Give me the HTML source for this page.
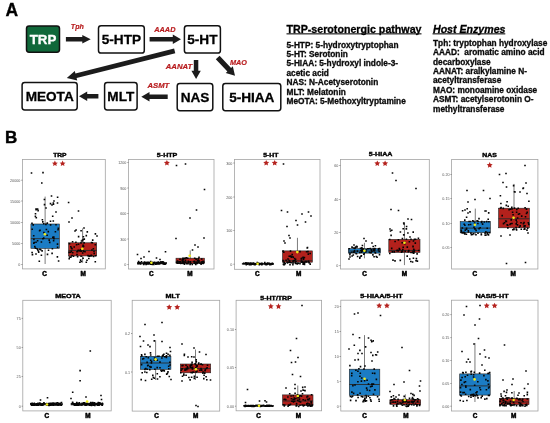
<!DOCTYPE html><html><head><meta charset="utf-8"><title>TRP-serotonergic pathway</title>
<style>html,body{margin:0;padding:0;background:#fff}svg{display:block}text{font-family:"Liberation Sans",Arial,sans-serif}.b{font-weight:bold}.bi{font-weight:bold;font-style:italic}.red{fill:#b5231f}.t{font-weight:bold;font-size:6.1px;text-anchor:middle;fill:#000;stroke:#000;stroke-width:0.4px;stroke-linejoin:round}.ax{font-size:3.7px;fill:#585858;text-anchor:end}.cm{font-weight:bold;font-size:6.4px;text-anchor:middle;fill:#000;stroke:#000;stroke-width:0.5px;stroke-linejoin:round}.l{font-weight:bold;font-size:8.3px;fill:#0a0a0a;stroke:#0a0a0a;stroke-width:0.3px}.box{font-weight:bold;font-size:13.7px;text-anchor:middle;fill:#000}.enz{font-weight:bold;font-style:italic;font-size:8.1px;fill:#b81d1f;stroke:#b81d1f;stroke-width:0.2px}</style></head><body>
<svg width="550" height="423" viewBox="0 0 550 423">
<rect width="550" height="423" fill="#fff"/>
<text x="5.6" y="16.35" class="b" font-size="17.5" stroke="#000" stroke-width="0.3">A</text>
<text x="4.9" y="142.7" class="b" font-size="17" stroke="#000" stroke-width="0.4">B</text>
<rect x="26.5" y="25.9" width="33.0" height="26.3" rx="2.6" fill="#10683a" stroke="#111" stroke-width="1.5"/>
<text x="43.0" y="43.8" class="box" style="fill:#fff;font-size:13.3px;stroke:#fff;stroke-width:0.35px">TRP</text>
<rect x="98.5" y="25.7" width="45.8" height="27.4" rx="2.6" fill="#fff" stroke="#111" stroke-width="1.5"/>
<text x="121.4" y="44.3" class="box" style="fill:#000;font-size:13.6px;stroke:#000;stroke-width:0.3px">5-HTP</text>
<rect x="184.4" y="25.8" width="36.0" height="27.3" rx="2.6" fill="#fff" stroke="#111" stroke-width="1.5"/>
<text x="202.4" y="44.3" class="box" style="fill:#000;font-size:13.6px;stroke:#000;stroke-width:0.3px">5-HT</text>
<rect x="22.1" y="82.5" width="55.1" height="27.4" rx="2.6" fill="#fff" stroke="#111" stroke-width="1.5"/>
<text x="49.7" y="101.1" class="box" style="fill:#000;font-size:13.6px;stroke:#000;stroke-width:0.3px">MEOTA</text>
<rect x="104.6" y="82.5" width="32.5" height="27.4" rx="2.6" fill="#fff" stroke="#111" stroke-width="1.5"/>
<text x="120.8" y="101.1" class="box" style="fill:#000;font-size:13.6px;stroke:#000;stroke-width:0.3px">MLT</text>
<rect x="177.2" y="83.5" width="35.6" height="27.2" rx="2.6" fill="#fff" stroke="#111" stroke-width="1.5"/>
<text x="195.0" y="102.0" class="box" style="fill:#000;font-size:13.6px;stroke:#000;stroke-width:0.3px">NAS</text>
<rect x="222.8" y="83.5" width="58.0" height="27.2" rx="2.6" fill="#fff" stroke="#111" stroke-width="1.5"/>
<text x="251.8" y="102.0" class="box" style="fill:#000;font-size:13.6px;stroke:#000;stroke-width:0.3px">5-HIAA</text>
<polygon fill="#1c1c1c" points="65.9,41.4 82.3,41.4 82.3,43.6 90.7,39.3 82.3,35.0 82.3,37.1 65.9,37.1"/>
<polygon fill="#1c1c1c" points="149.6,41.5 172.8,41.5 172.8,44.0 181.0,39.3 172.8,34.6 172.8,37.0 149.6,37.0"/>
<polygon fill="#1c1c1c" points="193.8,60.0 193.8,70.8 191.4,70.8 196.1,79.0 200.8,70.8 198.3,70.8 198.3,60.0"/>
<polygon fill="#1c1c1c" points="215.8,59.3 227.4,71.4 225.7,73.1 235.0,75.8 232.8,66.3 231.1,67.9 219.6,55.7"/>
<polygon fill="#1c1c1c" points="167.7,94.5 149.5,94.5 149.5,92.0 141.3,96.7 149.5,101.4 149.5,99.0 167.7,99.0"/>
<polygon fill="#1c1c1c" points="98.4,94.0 87.2,94.0 87.2,91.5 79.0,96.2 87.2,100.9 87.2,98.5 98.4,98.5"/>
<polygon fill="#1c1c1c" points="174.1,48.6 75.4,73.5 74.8,71.1 66.8,78.1 77.2,80.4 76.6,78.1 175.3,53.2"/>
<text x="70.8" y="28.8" class="enz" textLength="13" lengthAdjust="spacingAndGlyphs">Tph</text>
<text x="154.2" y="31.9" class="enz" textLength="21.3" lengthAdjust="spacingAndGlyphs">AAAD</text>
<text x="165.7" y="69.1" class="enz" textLength="26.6" lengthAdjust="spacingAndGlyphs">AANAT</text>
<text x="229.9" y="64.5" class="enz" textLength="17" lengthAdjust="spacingAndGlyphs">MAO</text>
<text x="147.5" y="88.3" class="enz" textLength="21.8" lengthAdjust="spacingAndGlyphs">ASMT</text>
<text x="286.5" y="32.9" class="b" font-size="10.66" stroke="#000" stroke-width="0.3">TRP-serotonergic pathway</text>
<rect x="286.5" y="33.3" width="135" height="1.1" fill="#111"/>
<text x="286.5" y="47.70" class="l">5-HTP: 5-hydroxytryptophan</text>
<text x="286.5" y="57.07" class="l">5-HT: Serotonin</text>
<text x="286.5" y="66.44" class="l">5-HIAA: 5-hydroxyl indole-3-</text>
<text x="286.5" y="75.81" class="l">acetic acid</text>
<text x="286.5" y="85.18" class="l">NAS: N-Acetyserotonin</text>
<text x="286.5" y="94.55" class="l">MLT: Melatonin</text>
<text x="286.5" y="103.92" class="l">MeOTA: 5-Methoxyltryptamine</text>
<text x="433" y="32.9" class="bi" font-size="10.6" stroke="#000" stroke-width="0.3">Host Enzymes</text>
<rect x="432.5" y="33.3" width="72.8" height="1.1" fill="#111"/>
<text x="433" y="45.70" class="l" xml:space="preserve">Tph: tryptophan hydroxylase</text>
<text x="433" y="55.10" class="l" xml:space="preserve">AAAD:  aromatic amino acid</text>
<text x="433" y="64.50" class="l" xml:space="preserve">decarboxylase</text>
<text x="433" y="73.90" class="l" xml:space="preserve">AANAT: aralkylamine N-</text>
<text x="433" y="83.30" class="l" xml:space="preserve">acetyltransferase</text>
<text x="433" y="92.70" class="l" xml:space="preserve">MAO: monoamine oxidase</text>
<text x="433" y="102.10" class="l" xml:space="preserve">ASMT: acetylserotonin O-</text>
<text x="433" y="111.50" class="l" xml:space="preserve">methyltransferase</text>
<rect x="22.4" y="159.4" width="82.9" height="109.5" fill="#fff" stroke="#a3a3a3" stroke-width="0.8"/>
<text x="59.8" y="157.25" class="t" textLength="13.3" lengthAdjust="spacingAndGlyphs">TRP</text>
<text x="20.3" y="181.7" class="ax">20000</text>
<rect x="21.2" y="179.85" width="1.2" height="0.5" fill="#444"/>
<text x="20.3" y="202.6" class="ax">15000</text>
<rect x="21.2" y="200.75" width="1.2" height="0.5" fill="#444"/>
<text x="20.3" y="223.9" class="ax">10000</text>
<rect x="21.2" y="222.05" width="1.2" height="0.5" fill="#444"/>
<text x="20.3" y="245.1" class="ax">5000</text>
<rect x="21.2" y="243.25" width="1.2" height="0.5" fill="#444"/>
<text x="20.3" y="265.9" class="ax">0</text>
<rect x="21.2" y="264.15" width="1.2" height="0.5" fill="#444"/>
<rect x="44.65" y="196.6" width="0.9" height="67.4" fill="#6e6e6e"/>
<rect x="30.9" y="224.0" width="28.4" height="24.3" fill="#1b7cc4" stroke="#222" stroke-width="0.6"/>
<rect x="30.9" y="238.25" width="28.4" height="0.9" fill="#2a2a2a"/>
<path d="M48.4 239.3h1.6v1.6h-1.6zM40.6 254.5h1.6v1.6h-1.6zM31.6 254.0h1.6v1.6h-1.6zM33.1 238.6h1.6v1.6h-1.6zM34.0 245.8h1.6v1.6h-1.6zM56.6 256.1h1.6v1.6h-1.6zM57.3 229.0h1.6v1.6h-1.6zM38.5 260.4h1.6v1.6h-1.6zM39.1 248.5h1.6v1.6h-1.6zM46.5 222.3h1.6v1.6h-1.6zM45.6 228.7h1.6v1.6h-1.6zM36.2 247.9h1.6v1.6h-1.6zM39.2 229.5h1.6v1.6h-1.6zM38.8 229.9h1.6v1.6h-1.6zM37.3 209.8h1.6v1.6h-1.6zM54.6 230.9h1.6v1.6h-1.6zM57.5 227.4h1.6v1.6h-1.6zM51.3 252.6h1.6v1.6h-1.6zM31.7 253.7h1.6v1.6h-1.6zM46.3 234.4h1.6v1.6h-1.6zM49.7 220.5h1.6v1.6h-1.6zM43.1 231.7h1.6v1.6h-1.6zM43.6 198.7h1.6v1.6h-1.6zM49.8 224.1h1.6v1.6h-1.6zM53.1 237.8h1.6v1.6h-1.6zM48.9 241.6h1.6v1.6h-1.6zM35.2 253.2h1.6v1.6h-1.6zM51.6 247.9h1.6v1.6h-1.6zM41.3 250.1h1.6v1.6h-1.6zM42.9 223.0h1.6v1.6h-1.6zM53.0 236.2h1.6v1.6h-1.6zM42.0 221.1h1.6v1.6h-1.6zM56.8 246.4h1.6v1.6h-1.6zM37.0 249.1h1.6v1.6h-1.6zM46.7 253.6h1.6v1.6h-1.6zM42.1 237.9h1.6v1.6h-1.6zM56.7 243.3h1.6v1.6h-1.6zM47.5 230.8h1.6v1.6h-1.6zM55.2 224.0h1.6v1.6h-1.6zM52.5 202.2h1.6v1.6h-1.6zM33.4 241.7h1.6v1.6h-1.6zM32.4 224.1h1.6v1.6h-1.6zM39.9 249.0h1.6v1.6h-1.6zM34.7 247.5h1.6v1.6h-1.6zM31.3 251.7h1.6v1.6h-1.6zM34.7 212.9h1.6v1.6h-1.6zM40.6 241.2h1.6v1.6h-1.6zM57.8 260.2h1.6v1.6h-1.6zM33.0 242.5h1.6v1.6h-1.6zM37.9 251.4h1.6v1.6h-1.6zM31.2 222.5h1.6v1.6h-1.6zM34.6 215.6h1.6v1.6h-1.6zM45.1 223.6h1.6v1.6h-1.6zM49.7 202.8h1.6v1.6h-1.6zM35.2 241.4h1.6v1.6h-1.6zM51.9 215.4h1.6v1.6h-1.6zM52.8 240.0h1.6v1.6h-1.6zM52.7 203.3h1.6v1.6h-1.6zM36.8 208.2h1.6v1.6h-1.6zM31.4 228.4h1.6v1.6h-1.6zM37.7 250.5h1.6v1.6h-1.6zM42.9 237.3h1.6v1.6h-1.6zM56.8 196.5h1.6v1.6h-1.6zM36.8 240.0h1.6v1.6h-1.6zM47.7 249.5h1.6v1.6h-1.6zM43.7 203.8h1.6v1.6h-1.6zM32.9 235.0h1.6v1.6h-1.6zM52.0 236.6h1.6v1.6h-1.6zM35.5 216.9h1.6v1.6h-1.6zM52.5 220.2h1.6v1.6h-1.6zM41.6 218.9h1.6v1.6h-1.6zM35.3 208.8h1.6v1.6h-1.6zM30.7 172.2h1.6v1.6h-1.6zM42.2 171.8h1.6v1.6h-1.6zM41.0 182.2h1.6v1.6h-1.6zM50.7 195.2h1.6v1.6h-1.6zM53.2 200.2h1.6v1.6h-1.6zM56.7 202.2h1.6v1.6h-1.6zM51.2 204.2h1.6v1.6h-1.6zM45.2 207.2h1.6v1.6h-1.6zM35.2 208.2h1.6v1.6h-1.6zM55.2 211.2h1.6v1.6h-1.6z" fill="#050505"/>
<circle cx="44.9" cy="234.3" r="1.3" fill="#f2ee1a"/>
<rect x="82.20" y="228.4" width="0.9" height="34.3" fill="#6e6e6e"/>
<rect x="68.6" y="242.8" width="28.1" height="13.1" fill="#b3211c" stroke="#222" stroke-width="0.6"/>
<rect x="68.6" y="249.95" width="28.1" height="0.9" fill="#2a2a2a"/>
<path d="M92.8 255.7h1.6v1.6h-1.6zM90.7 241.7h1.6v1.6h-1.6zM77.8 235.8h1.6v1.6h-1.6zM68.7 243.0h1.6v1.6h-1.6zM82.6 235.9h1.6v1.6h-1.6zM91.9 239.3h1.6v1.6h-1.6zM75.1 241.4h1.6v1.6h-1.6zM84.2 250.9h1.6v1.6h-1.6zM71.9 251.9h1.6v1.6h-1.6zM80.7 240.2h1.6v1.6h-1.6zM79.7 248.9h1.6v1.6h-1.6zM82.7 238.4h1.6v1.6h-1.6zM80.2 242.1h1.6v1.6h-1.6zM90.0 255.1h1.6v1.6h-1.6zM88.0 257.7h1.6v1.6h-1.6zM82.3 244.5h1.6v1.6h-1.6zM71.2 248.0h1.6v1.6h-1.6zM75.8 243.9h1.6v1.6h-1.6zM83.5 238.3h1.6v1.6h-1.6zM80.3 230.0h1.6v1.6h-1.6zM82.2 245.8h1.6v1.6h-1.6zM82.8 245.4h1.6v1.6h-1.6zM87.2 254.8h1.6v1.6h-1.6zM75.3 229.2h1.6v1.6h-1.6zM91.1 249.2h1.6v1.6h-1.6zM80.3 255.5h1.6v1.6h-1.6zM70.3 256.2h1.6v1.6h-1.6zM92.6 248.0h1.6v1.6h-1.6zM86.2 259.5h1.6v1.6h-1.6zM94.5 260.9h1.6v1.6h-1.6zM79.1 261.5h1.6v1.6h-1.6zM90.9 255.0h1.6v1.6h-1.6zM82.3 257.4h1.6v1.6h-1.6zM76.9 250.7h1.6v1.6h-1.6zM83.3 242.1h1.6v1.6h-1.6zM77.3 249.7h1.6v1.6h-1.6zM70.0 245.9h1.6v1.6h-1.6zM94.6 233.1h1.6v1.6h-1.6zM69.4 256.3h1.6v1.6h-1.6zM71.8 240.9h1.6v1.6h-1.6zM90.5 254.6h1.6v1.6h-1.6zM93.2 250.4h1.6v1.6h-1.6zM70.7 247.3h1.6v1.6h-1.6zM79.8 259.3h1.6v1.6h-1.6zM85.5 261.4h1.6v1.6h-1.6zM91.5 241.9h1.6v1.6h-1.6zM80.6 260.7h1.6v1.6h-1.6zM93.4 252.6h1.6v1.6h-1.6zM82.6 250.3h1.6v1.6h-1.6zM72.7 255.5h1.6v1.6h-1.6zM76.8 255.9h1.6v1.6h-1.6zM76.2 253.8h1.6v1.6h-1.6zM77.7 243.4h1.6v1.6h-1.6zM68.7 256.2h1.6v1.6h-1.6zM73.4 246.2h1.6v1.6h-1.6zM71.2 254.7h1.6v1.6h-1.6zM81.7 239.3h1.6v1.6h-1.6zM82.0 239.8h1.6v1.6h-1.6zM77.6 249.5h1.6v1.6h-1.6zM85.5 234.8h1.6v1.6h-1.6zM69.8 251.5h1.6v1.6h-1.6zM88.4 255.3h1.6v1.6h-1.6zM70.6 250.5h1.6v1.6h-1.6zM86.5 231.1h1.6v1.6h-1.6zM76.2 250.9h1.6v1.6h-1.6zM80.4 250.5h1.6v1.6h-1.6zM94.7 254.9h1.6v1.6h-1.6zM94.5 243.9h1.6v1.6h-1.6zM68.3 251.6h1.6v1.6h-1.6zM81.9 252.2h1.6v1.6h-1.6zM68.4 257.9h1.6v1.6h-1.6zM79.1 250.1h1.6v1.6h-1.6zM67.8 201.7h1.6v1.6h-1.6zM77.7 210.2h1.6v1.6h-1.6zM71.2 217.2h1.6v1.6h-1.6zM68.2 221.2h1.6v1.6h-1.6zM83.2 227.2h1.6v1.6h-1.6zM96.2 235.2h1.6v1.6h-1.6zM74.2 230.2h1.6v1.6h-1.6z" fill="#050505"/>
<circle cx="82.3" cy="248.7" r="1.3" fill="#f2ee1a"/>
<polygon fill="#b5231f" points="54.90,160.50 55.77,162.40 57.85,162.64 56.32,164.06 56.72,166.11 54.90,165.09 53.08,166.11 53.48,164.06 51.95,162.64 54.03,162.40"/>
<polygon fill="#b5231f" points="62.60,160.50 63.47,162.40 65.55,162.64 64.02,164.06 64.42,166.11 62.60,165.09 60.78,166.11 61.18,164.06 59.65,162.64 61.73,162.40"/>
<text x="44.6" y="275.5" class="cm">C</text>
<text x="83.2" y="275.5" class="cm">M</text>
<rect x="128.5" y="159.4" width="85.5" height="109.6" fill="#fff" stroke="#a3a3a3" stroke-width="0.8"/>
<text x="167.1" y="156.75" class="t" textLength="20.5" lengthAdjust="spacingAndGlyphs">5-HTP</text>
<text x="126.4" y="164.2" class="ax">1200</text>
<rect x="127.3" y="162.35" width="1.2" height="0.5" fill="#444"/>
<text x="126.4" y="189.6" class="ax">900</text>
<rect x="127.3" y="187.75" width="1.2" height="0.5" fill="#444"/>
<text x="126.4" y="215.0" class="ax">600</text>
<rect x="127.3" y="213.15" width="1.2" height="0.5" fill="#444"/>
<text x="126.4" y="240.6" class="ax">300</text>
<rect x="127.3" y="238.75" width="1.2" height="0.5" fill="#444"/>
<text x="126.4" y="265.9" class="ax">0</text>
<rect x="127.3" y="264.15" width="1.2" height="0.5" fill="#444"/>
<rect x="151.70" y="261.5" width="0.9" height="3.0" fill="#6e6e6e"/>
<rect x="137.6" y="262.6" width="29.1" height="1.3" fill="#111" stroke="#222" stroke-width="0.6"/>
<rect x="137.6" y="262.85" width="29.1" height="0.9" fill="#2a2a2a"/>
<path d="M145.8 263.1h1.6v1.6h-1.6zM152.2 263.4h1.6v1.6h-1.6zM157.4 261.3h1.6v1.6h-1.6zM146.5 261.6h1.6v1.6h-1.6zM157.6 261.8h1.6v1.6h-1.6zM160.8 261.8h1.6v1.6h-1.6zM157.9 261.4h1.6v1.6h-1.6zM152.0 261.8h1.6v1.6h-1.6zM159.9 262.4h1.6v1.6h-1.6zM162.4 261.4h1.6v1.6h-1.6zM143.8 262.3h1.6v1.6h-1.6zM147.4 263.1h1.6v1.6h-1.6zM153.0 263.6h1.6v1.6h-1.6zM156.4 262.2h1.6v1.6h-1.6zM159.7 262.5h1.6v1.6h-1.6zM152.3 262.2h1.6v1.6h-1.6zM158.0 261.8h1.6v1.6h-1.6zM144.8 262.5h1.6v1.6h-1.6zM158.1 261.9h1.6v1.6h-1.6zM148.0 261.5h1.6v1.6h-1.6zM158.9 262.9h1.6v1.6h-1.6zM139.5 262.2h1.6v1.6h-1.6zM158.2 263.2h1.6v1.6h-1.6zM137.7 262.8h1.6v1.6h-1.6zM156.2 263.2h1.6v1.6h-1.6zM145.5 262.3h1.6v1.6h-1.6zM150.4 262.1h1.6v1.6h-1.6zM142.9 263.6h1.6v1.6h-1.6zM137.8 260.8h1.6v1.6h-1.6zM164.5 263.0h1.6v1.6h-1.6zM143.2 262.7h1.6v1.6h-1.6zM153.6 261.8h1.6v1.6h-1.6zM164.1 263.4h1.6v1.6h-1.6zM151.6 263.6h1.6v1.6h-1.6zM143.8 261.3h1.6v1.6h-1.6zM138.0 261.5h1.6v1.6h-1.6zM150.0 263.3h1.6v1.6h-1.6zM147.0 262.6h1.6v1.6h-1.6zM137.3 263.0h1.6v1.6h-1.6zM140.7 261.0h1.6v1.6h-1.6zM162.6 261.2h1.6v1.6h-1.6zM148.3 262.7h1.6v1.6h-1.6zM147.4 261.4h1.6v1.6h-1.6zM138.7 262.7h1.6v1.6h-1.6zM145.3 263.6h1.6v1.6h-1.6zM144.8 261.7h1.6v1.6h-1.6zM147.8 261.9h1.6v1.6h-1.6zM160.1 260.9h1.6v1.6h-1.6zM163.7 262.4h1.6v1.6h-1.6zM138.7 262.3h1.6v1.6h-1.6zM158.4 262.1h1.6v1.6h-1.6zM138.7 262.0h1.6v1.6h-1.6zM150.6 261.8h1.6v1.6h-1.6zM158.1 262.7h1.6v1.6h-1.6zM155.7 261.7h1.6v1.6h-1.6zM148.4 262.8h1.6v1.6h-1.6zM143.1 263.2h1.6v1.6h-1.6zM143.5 261.5h1.6v1.6h-1.6zM149.9 260.7h1.6v1.6h-1.6zM139.8 263.2h1.6v1.6h-1.6zM144.0 262.6h1.6v1.6h-1.6zM162.2 262.8h1.6v1.6h-1.6zM148.9 262.1h1.6v1.6h-1.6zM146.8 262.1h1.6v1.6h-1.6zM164.5 263.2h1.6v1.6h-1.6zM155.0 263.3h1.6v1.6h-1.6zM144.9 261.7h1.6v1.6h-1.6zM149.8 263.3h1.6v1.6h-1.6zM161.8 261.0h1.6v1.6h-1.6zM157.2 263.1h1.6v1.6h-1.6zM153.8 261.6h1.6v1.6h-1.6zM163.3 263.3h1.6v1.6h-1.6zM136.7 253.7h1.6v1.6h-1.6zM148.2 250.7h1.6v1.6h-1.6zM164.7 251.0h1.6v1.6h-1.6zM143.2 256.2h1.6v1.6h-1.6zM155.7 257.2h1.6v1.6h-1.6zM159.2 258.7h1.6v1.6h-1.6zM140.2 257.7h1.6v1.6h-1.6z" fill="#050505"/>
<circle cx="151.4" cy="262.8" r="1.3" fill="#f2ee1a"/>
<rect x="189.75" y="250.4" width="0.9" height="14.2" fill="#6e6e6e"/>
<rect x="176" y="258.2" width="28.4" height="5.1" fill="#b3211c" stroke="#222" stroke-width="0.6"/>
<rect x="176" y="261.35" width="28.4" height="0.9" fill="#2a2a2a"/>
<path d="M202.3 260.5h1.6v1.6h-1.6zM179.9 262.6h1.6v1.6h-1.6zM201.5 262.0h1.6v1.6h-1.6zM196.7 259.7h1.6v1.6h-1.6zM176.8 261.8h1.6v1.6h-1.6zM200.9 258.2h1.6v1.6h-1.6zM179.2 258.5h1.6v1.6h-1.6zM194.8 263.2h1.6v1.6h-1.6zM190.1 262.5h1.6v1.6h-1.6zM181.8 261.6h1.6v1.6h-1.6zM184.0 257.4h1.6v1.6h-1.6zM193.4 262.4h1.6v1.6h-1.6zM182.1 259.1h1.6v1.6h-1.6zM195.0 263.7h1.6v1.6h-1.6zM189.4 261.0h1.6v1.6h-1.6zM182.7 258.9h1.6v1.6h-1.6zM181.9 260.7h1.6v1.6h-1.6zM187.2 262.8h1.6v1.6h-1.6zM197.5 258.1h1.6v1.6h-1.6zM181.3 259.2h1.6v1.6h-1.6zM198.2 256.6h1.6v1.6h-1.6zM196.5 262.7h1.6v1.6h-1.6zM189.3 263.7h1.6v1.6h-1.6zM187.1 262.7h1.6v1.6h-1.6zM179.7 260.8h1.6v1.6h-1.6zM202.4 261.3h1.6v1.6h-1.6zM177.3 262.5h1.6v1.6h-1.6zM199.9 262.3h1.6v1.6h-1.6zM201.2 261.0h1.6v1.6h-1.6zM201.3 261.3h1.6v1.6h-1.6zM193.9 257.5h1.6v1.6h-1.6zM184.8 261.6h1.6v1.6h-1.6zM183.4 262.5h1.6v1.6h-1.6zM179.1 262.4h1.6v1.6h-1.6zM185.5 257.1h1.6v1.6h-1.6zM187.5 260.4h1.6v1.6h-1.6zM185.9 263.0h1.6v1.6h-1.6zM185.7 257.1h1.6v1.6h-1.6zM187.0 257.5h1.6v1.6h-1.6zM176.8 260.2h1.6v1.6h-1.6zM200.9 262.5h1.6v1.6h-1.6zM200.3 263.4h1.6v1.6h-1.6zM201.9 261.4h1.6v1.6h-1.6zM195.3 258.3h1.6v1.6h-1.6zM175.8 261.4h1.6v1.6h-1.6zM193.1 260.7h1.6v1.6h-1.6zM182.1 257.4h1.6v1.6h-1.6zM201.8 262.4h1.6v1.6h-1.6zM187.5 261.4h1.6v1.6h-1.6zM180.7 262.4h1.6v1.6h-1.6zM198.2 260.1h1.6v1.6h-1.6zM184.7 259.6h1.6v1.6h-1.6zM197.1 261.5h1.6v1.6h-1.6zM196.3 262.7h1.6v1.6h-1.6zM176.6 262.5h1.6v1.6h-1.6zM202.6 261.5h1.6v1.6h-1.6zM183.0 261.0h1.6v1.6h-1.6zM189.4 262.6h1.6v1.6h-1.6zM182.1 259.0h1.6v1.6h-1.6zM194.2 261.9h1.6v1.6h-1.6zM193.9 260.4h1.6v1.6h-1.6zM183.7 263.5h1.6v1.6h-1.6zM195.9 261.6h1.6v1.6h-1.6zM182.4 262.7h1.6v1.6h-1.6zM191.5 263.6h1.6v1.6h-1.6zM202.9 261.6h1.6v1.6h-1.6zM197.9 261.3h1.6v1.6h-1.6zM178.5 261.0h1.6v1.6h-1.6zM198.7 262.2h1.6v1.6h-1.6zM183.7 257.4h1.6v1.6h-1.6zM202.4 262.6h1.6v1.6h-1.6zM185.9 262.4h1.6v1.6h-1.6zM175.7 164.7h1.6v1.6h-1.6zM184.7 163.2h1.6v1.6h-1.6zM203.7 188.7h1.6v1.6h-1.6zM195.7 209.2h1.6v1.6h-1.6zM189.2 217.2h1.6v1.6h-1.6zM175.2 237.7h1.6v1.6h-1.6zM203.2 237.2h1.6v1.6h-1.6zM194.2 244.2h1.6v1.6h-1.6zM197.2 246.2h1.6v1.6h-1.6zM191.7 249.2h1.6v1.6h-1.6z" fill="#050505"/>
<circle cx="189.7" cy="255.7" r="1.3" fill="#f2ee1a"/>
<polygon fill="#b5231f" points="166.90,159.90 167.77,161.80 169.85,162.04 168.32,163.46 168.72,165.51 166.90,164.49 165.08,165.51 165.48,163.46 163.95,162.04 166.03,161.80"/>
<text x="151.3" y="275.5" class="cm">C</text>
<text x="190" y="275.5" class="cm">M</text>
<rect x="234.5" y="159.4" width="85.5" height="109.9" fill="#fff" stroke="#a3a3a3" stroke-width="0.8"/>
<text x="270.8" y="157.25" class="t" textLength="15.3" lengthAdjust="spacingAndGlyphs">5-HT</text>
<text x="232.4" y="164.6" class="ax">300</text>
<rect x="233.3" y="162.75" width="1.2" height="0.5" fill="#444"/>
<text x="232.4" y="198.6" class="ax">200</text>
<rect x="233.3" y="196.75" width="1.2" height="0.5" fill="#444"/>
<text x="232.4" y="232.1" class="ax">100</text>
<rect x="233.3" y="230.25" width="1.2" height="0.5" fill="#444"/>
<text x="232.4" y="265.7" class="ax">0</text>
<rect x="233.3" y="263.85" width="1.2" height="0.5" fill="#444"/>
<rect x="257.35" y="262.6" width="0.9" height="2.2" fill="#6e6e6e"/>
<rect x="242.2" y="263.2" width="31.2" height="1.0" fill="#111" stroke="#222" stroke-width="0.6"/>
<rect x="242.2" y="263.25" width="31.2" height="0.9" fill="#2a2a2a"/>
<path d="M249.8 262.3h1.6v1.6h-1.6zM245.1 261.9h1.6v1.6h-1.6zM248.5 262.7h1.6v1.6h-1.6zM248.1 263.0h1.6v1.6h-1.6zM261.6 263.2h1.6v1.6h-1.6zM251.8 263.4h1.6v1.6h-1.6zM251.3 262.5h1.6v1.6h-1.6zM258.5 263.8h1.6v1.6h-1.6zM253.8 263.4h1.6v1.6h-1.6zM244.7 262.7h1.6v1.6h-1.6zM254.3 263.8h1.6v1.6h-1.6zM270.7 263.1h1.6v1.6h-1.6zM252.7 263.2h1.6v1.6h-1.6zM272.0 263.3h1.6v1.6h-1.6zM263.9 263.0h1.6v1.6h-1.6zM269.1 263.4h1.6v1.6h-1.6zM254.2 263.3h1.6v1.6h-1.6zM246.8 262.3h1.6v1.6h-1.6zM261.2 263.7h1.6v1.6h-1.6zM260.7 262.4h1.6v1.6h-1.6zM246.3 263.2h1.6v1.6h-1.6zM269.9 263.2h1.6v1.6h-1.6zM266.2 263.6h1.6v1.6h-1.6zM245.7 262.4h1.6v1.6h-1.6zM256.5 261.8h1.6v1.6h-1.6zM253.6 263.9h1.6v1.6h-1.6zM266.8 262.2h1.6v1.6h-1.6zM248.6 263.8h1.6v1.6h-1.6zM266.9 263.3h1.6v1.6h-1.6zM254.0 263.5h1.6v1.6h-1.6zM245.6 262.6h1.6v1.6h-1.6zM269.0 263.8h1.6v1.6h-1.6zM264.8 263.7h1.6v1.6h-1.6zM245.5 263.9h1.6v1.6h-1.6zM260.8 262.7h1.6v1.6h-1.6zM259.5 263.1h1.6v1.6h-1.6zM255.4 263.2h1.6v1.6h-1.6zM260.6 262.9h1.6v1.6h-1.6zM265.0 263.0h1.6v1.6h-1.6zM247.3 262.3h1.6v1.6h-1.6zM245.8 263.0h1.6v1.6h-1.6zM255.2 262.9h1.6v1.6h-1.6zM261.1 262.4h1.6v1.6h-1.6zM265.4 263.8h1.6v1.6h-1.6zM257.1 262.4h1.6v1.6h-1.6zM246.0 263.4h1.6v1.6h-1.6zM264.0 261.8h1.6v1.6h-1.6zM271.5 262.4h1.6v1.6h-1.6zM269.6 263.4h1.6v1.6h-1.6zM270.0 263.8h1.6v1.6h-1.6zM264.7 263.6h1.6v1.6h-1.6zM250.2 263.9h1.6v1.6h-1.6zM257.1 262.4h1.6v1.6h-1.6zM249.8 262.4h1.6v1.6h-1.6zM243.0 262.6h1.6v1.6h-1.6zM270.2 263.5h1.6v1.6h-1.6zM247.0 262.8h1.6v1.6h-1.6zM257.9 262.4h1.6v1.6h-1.6zM268.3 262.6h1.6v1.6h-1.6zM268.6 262.7h1.6v1.6h-1.6zM260.9 264.0h1.6v1.6h-1.6zM249.9 263.3h1.6v1.6h-1.6zM252.8 262.2h1.6v1.6h-1.6zM247.2 262.3h1.6v1.6h-1.6zM266.7 262.4h1.6v1.6h-1.6zM271.6 263.2h1.6v1.6h-1.6zM251.3 262.7h1.6v1.6h-1.6zM246.4 263.4h1.6v1.6h-1.6zM257.4 262.6h1.6v1.6h-1.6zM248.8 262.4h1.6v1.6h-1.6z" fill="#050505"/>
<circle cx="257.6" cy="263.7" r="1.3" fill="#f2ee1a"/>
<rect x="296.95" y="237.8" width="0.9" height="27.2" fill="#6e6e6e"/>
<rect x="282.5" y="250.9" width="29.8" height="11.3" fill="#b3211c" stroke="#222" stroke-width="0.6"/>
<rect x="282.5" y="260.35" width="29.8" height="0.9" fill="#2a2a2a"/>
<path d="M282.3 250.3h1.6v1.6h-1.6zM292.5 260.1h1.6v1.6h-1.6zM299.2 262.8h1.6v1.6h-1.6zM295.9 262.9h1.6v1.6h-1.6zM289.2 264.0h1.6v1.6h-1.6zM300.6 261.5h1.6v1.6h-1.6zM293.8 257.8h1.6v1.6h-1.6zM300.8 261.4h1.6v1.6h-1.6zM300.8 260.5h1.6v1.6h-1.6zM303.3 261.3h1.6v1.6h-1.6zM283.5 263.9h1.6v1.6h-1.6zM289.0 260.6h1.6v1.6h-1.6zM282.6 263.4h1.6v1.6h-1.6zM286.3 261.3h1.6v1.6h-1.6zM296.8 262.9h1.6v1.6h-1.6zM287.2 258.2h1.6v1.6h-1.6zM283.6 262.0h1.6v1.6h-1.6zM302.8 257.9h1.6v1.6h-1.6zM303.7 263.6h1.6v1.6h-1.6zM295.2 261.0h1.6v1.6h-1.6zM288.9 261.6h1.6v1.6h-1.6zM303.8 262.1h1.6v1.6h-1.6zM302.7 258.5h1.6v1.6h-1.6zM294.8 262.7h1.6v1.6h-1.6zM289.8 255.3h1.6v1.6h-1.6zM288.4 259.7h1.6v1.6h-1.6zM289.7 250.3h1.6v1.6h-1.6zM309.4 263.3h1.6v1.6h-1.6zM307.5 253.3h1.6v1.6h-1.6zM308.3 261.8h1.6v1.6h-1.6zM301.4 261.0h1.6v1.6h-1.6zM306.4 247.2h1.6v1.6h-1.6zM294.8 258.6h1.6v1.6h-1.6zM291.1 255.7h1.6v1.6h-1.6zM284.4 262.9h1.6v1.6h-1.6zM283.0 251.5h1.6v1.6h-1.6zM292.1 263.9h1.6v1.6h-1.6zM283.4 261.4h1.6v1.6h-1.6zM302.3 256.4h1.6v1.6h-1.6zM299.2 250.8h1.6v1.6h-1.6zM305.8 261.1h1.6v1.6h-1.6zM307.2 250.8h1.6v1.6h-1.6zM285.3 259.4h1.6v1.6h-1.6zM283.2 261.6h1.6v1.6h-1.6zM300.5 258.1h1.6v1.6h-1.6zM290.5 256.4h1.6v1.6h-1.6zM304.0 261.5h1.6v1.6h-1.6zM294.4 262.0h1.6v1.6h-1.6zM290.3 261.9h1.6v1.6h-1.6zM291.4 253.7h1.6v1.6h-1.6zM306.7 246.8h1.6v1.6h-1.6zM294.1 260.0h1.6v1.6h-1.6zM292.2 261.1h1.6v1.6h-1.6zM288.4 255.4h1.6v1.6h-1.6zM305.8 251.0h1.6v1.6h-1.6zM288.0 261.4h1.6v1.6h-1.6zM282.3 259.8h1.6v1.6h-1.6zM305.1 260.7h1.6v1.6h-1.6zM292.2 262.5h1.6v1.6h-1.6zM309.4 252.7h1.6v1.6h-1.6zM302.3 261.8h1.6v1.6h-1.6zM300.5 260.2h1.6v1.6h-1.6zM302.3 263.5h1.6v1.6h-1.6zM292.4 256.3h1.6v1.6h-1.6zM307.8 260.6h1.6v1.6h-1.6zM282.9 263.8h1.6v1.6h-1.6zM308.2 261.9h1.6v1.6h-1.6zM307.7 260.5h1.6v1.6h-1.6zM297.5 262.4h1.6v1.6h-1.6zM300.8 257.6h1.6v1.6h-1.6zM286.7 262.1h1.6v1.6h-1.6zM303.6 256.7h1.6v1.6h-1.6zM282.7 163.2h1.6v1.6h-1.6zM280.7 209.7h1.6v1.6h-1.6zM286.7 211.2h1.6v1.6h-1.6zM301.2 213.2h1.6v1.6h-1.6zM307.7 211.2h1.6v1.6h-1.6zM310.2 215.2h1.6v1.6h-1.6zM295.2 219.7h1.6v1.6h-1.6zM304.7 221.2h1.6v1.6h-1.6zM286.2 225.7h1.6v1.6h-1.6zM296.7 224.2h1.6v1.6h-1.6zM288.2 234.7h1.6v1.6h-1.6zM283.2 240.2h1.6v1.6h-1.6zM284.2 242.2h1.6v1.6h-1.6zM289.2 237.2h1.6v1.6h-1.6z" fill="#050505"/>
<circle cx="297.3" cy="252.1" r="1.3" fill="#f2ee1a"/>
<polygon fill="#b5231f" points="266.20,159.90 267.07,161.80 269.15,162.04 267.62,163.46 268.02,165.51 266.20,164.49 264.38,165.51 264.78,163.46 263.25,162.04 265.33,161.80"/>
<polygon fill="#b5231f" points="274.70,159.90 275.57,161.80 277.65,162.04 276.12,163.46 276.52,165.51 274.70,164.49 272.88,165.51 273.28,163.46 271.75,162.04 273.83,161.80"/>
<text x="257.3" y="275.8" class="cm">C</text>
<text x="298.6" y="275.8" class="cm">M</text>
<rect x="340.4" y="159.5" width="88.9" height="109.5" fill="#fff" stroke="#a3a3a3" stroke-width="0.8"/>
<text x="380.6" y="155.65" class="t" textLength="23.7" lengthAdjust="spacingAndGlyphs">5-HIAA</text>
<text x="338.3" y="167.2" class="ax">60</text>
<rect x="339.2" y="165.45" width="1.2" height="0.5" fill="#444"/>
<text x="338.3" y="200.9" class="ax">40</text>
<rect x="339.2" y="199.05" width="1.2" height="0.5" fill="#444"/>
<text x="338.3" y="234.2" class="ax">20</text>
<rect x="339.2" y="232.35" width="1.2" height="0.5" fill="#444"/>
<text x="338.3" y="267.4" class="ax">0</text>
<rect x="339.2" y="265.55" width="1.2" height="0.5" fill="#444"/>
<rect x="363.95" y="242.8" width="0.9" height="15.5" fill="#6e6e6e"/>
<rect x="348.3" y="248.7" width="32.2" height="4.4" fill="#1b7cc4" stroke="#222" stroke-width="0.6"/>
<rect x="348.3" y="250.55" width="32.2" height="0.9" fill="#2a2a2a"/>
<path d="M372.1 254.1h1.6v1.6h-1.6zM362.4 248.2h1.6v1.6h-1.6zM354.0 247.6h1.6v1.6h-1.6zM374.3 251.7h1.6v1.6h-1.6zM355.7 252.8h1.6v1.6h-1.6zM353.0 251.3h1.6v1.6h-1.6zM378.4 250.6h1.6v1.6h-1.6zM378.0 248.1h1.6v1.6h-1.6zM378.7 253.8h1.6v1.6h-1.6zM361.6 244.7h1.6v1.6h-1.6zM351.3 255.2h1.6v1.6h-1.6zM349.1 253.8h1.6v1.6h-1.6zM369.6 251.9h1.6v1.6h-1.6zM362.5 249.4h1.6v1.6h-1.6zM360.6 255.0h1.6v1.6h-1.6zM361.4 250.0h1.6v1.6h-1.6zM361.1 249.6h1.6v1.6h-1.6zM375.5 255.7h1.6v1.6h-1.6zM374.6 245.0h1.6v1.6h-1.6zM362.2 249.4h1.6v1.6h-1.6zM351.1 251.5h1.6v1.6h-1.6zM370.3 251.8h1.6v1.6h-1.6zM361.2 248.5h1.6v1.6h-1.6zM360.8 251.5h1.6v1.6h-1.6zM353.7 250.0h1.6v1.6h-1.6zM360.1 249.7h1.6v1.6h-1.6zM349.2 252.2h1.6v1.6h-1.6zM372.4 248.3h1.6v1.6h-1.6zM351.2 246.3h1.6v1.6h-1.6zM370.4 249.1h1.6v1.6h-1.6zM373.9 249.4h1.6v1.6h-1.6zM377.6 248.8h1.6v1.6h-1.6zM360.2 255.5h1.6v1.6h-1.6zM378.7 247.8h1.6v1.6h-1.6zM356.6 250.3h1.6v1.6h-1.6zM361.1 250.2h1.6v1.6h-1.6zM359.0 251.7h1.6v1.6h-1.6zM371.1 250.7h1.6v1.6h-1.6zM354.8 246.3h1.6v1.6h-1.6zM354.6 247.0h1.6v1.6h-1.6zM373.3 256.0h1.6v1.6h-1.6zM365.5 249.0h1.6v1.6h-1.6zM359.0 257.3h1.6v1.6h-1.6zM373.5 249.8h1.6v1.6h-1.6zM365.1 250.8h1.6v1.6h-1.6zM359.1 256.4h1.6v1.6h-1.6zM359.7 247.5h1.6v1.6h-1.6zM353.8 251.1h1.6v1.6h-1.6zM356.8 255.7h1.6v1.6h-1.6zM363.0 253.4h1.6v1.6h-1.6zM368.6 251.5h1.6v1.6h-1.6zM374.7 252.2h1.6v1.6h-1.6zM376.3 256.4h1.6v1.6h-1.6zM373.9 247.8h1.6v1.6h-1.6zM348.4 247.9h1.6v1.6h-1.6zM355.8 245.4h1.6v1.6h-1.6zM355.3 252.7h1.6v1.6h-1.6zM352.8 247.2h1.6v1.6h-1.6zM353.2 244.2h1.6v1.6h-1.6zM372.4 245.7h1.6v1.6h-1.6zM372.6 250.0h1.6v1.6h-1.6zM369.6 247.7h1.6v1.6h-1.6zM361.7 249.6h1.6v1.6h-1.6zM356.3 246.1h1.6v1.6h-1.6zM363.4 252.7h1.6v1.6h-1.6zM352.5 254.2h1.6v1.6h-1.6zM364.8 251.2h1.6v1.6h-1.6zM374.2 247.9h1.6v1.6h-1.6zM368.8 251.4h1.6v1.6h-1.6zM361.1 247.1h1.6v1.6h-1.6zM367.9 247.9h1.6v1.6h-1.6zM367.0 248.0h1.6v1.6h-1.6zM363.2 237.7h1.6v1.6h-1.6zM365.2 240.2h1.6v1.6h-1.6zM371.2 242.2h1.6v1.6h-1.6zM349.2 256.2h1.6v1.6h-1.6zM348.2 258.2h1.6v1.6h-1.6z" fill="#050505"/>
<circle cx="364.4" cy="250.7" r="1.3" fill="#f2ee1a"/>
<rect x="403.95" y="222.3" width="0.9" height="42.8" fill="#6e6e6e"/>
<rect x="388.8" y="239.4" width="31.2" height="13.0" fill="#b3211c" stroke="#222" stroke-width="0.6"/>
<rect x="388.8" y="249.95" width="31.2" height="0.9" fill="#2a2a2a"/>
<path d="M398.5 248.8h1.6v1.6h-1.6zM403.1 234.1h1.6v1.6h-1.6zM410.2 238.6h1.6v1.6h-1.6zM414.5 242.3h1.6v1.6h-1.6zM404.4 250.5h1.6v1.6h-1.6zM401.6 237.8h1.6v1.6h-1.6zM413.5 250.7h1.6v1.6h-1.6zM400.7 251.3h1.6v1.6h-1.6zM403.8 241.6h1.6v1.6h-1.6zM412.4 231.3h1.6v1.6h-1.6zM397.5 250.2h1.6v1.6h-1.6zM412.2 245.6h1.6v1.6h-1.6zM415.2 259.9h1.6v1.6h-1.6zM397.6 239.1h1.6v1.6h-1.6zM416.3 253.1h1.6v1.6h-1.6zM412.3 245.8h1.6v1.6h-1.6zM407.1 232.2h1.6v1.6h-1.6zM406.5 246.3h1.6v1.6h-1.6zM408.6 240.9h1.6v1.6h-1.6zM391.6 251.1h1.6v1.6h-1.6zM411.9 251.8h1.6v1.6h-1.6zM399.6 231.2h1.6v1.6h-1.6zM405.5 228.0h1.6v1.6h-1.6zM401.2 250.2h1.6v1.6h-1.6zM407.9 250.5h1.6v1.6h-1.6zM405.6 238.5h1.6v1.6h-1.6zM413.0 252.4h1.6v1.6h-1.6zM402.0 248.7h1.6v1.6h-1.6zM406.4 255.3h1.6v1.6h-1.6zM402.9 222.2h1.6v1.6h-1.6zM408.0 249.8h1.6v1.6h-1.6zM389.0 252.7h1.6v1.6h-1.6zM392.2 259.3h1.6v1.6h-1.6zM414.8 238.5h1.6v1.6h-1.6zM410.2 251.7h1.6v1.6h-1.6zM394.2 260.1h1.6v1.6h-1.6zM410.0 260.7h1.6v1.6h-1.6zM391.0 229.5h1.6v1.6h-1.6zM402.4 246.4h1.6v1.6h-1.6zM417.6 237.5h1.6v1.6h-1.6zM388.9 238.7h1.6v1.6h-1.6zM390.9 247.6h1.6v1.6h-1.6zM393.5 251.1h1.6v1.6h-1.6zM390.3 234.6h1.6v1.6h-1.6zM401.7 250.7h1.6v1.6h-1.6zM412.6 240.2h1.6v1.6h-1.6zM407.5 250.9h1.6v1.6h-1.6zM412.2 250.4h1.6v1.6h-1.6zM405.6 228.1h1.6v1.6h-1.6zM417.9 249.7h1.6v1.6h-1.6zM398.5 247.7h1.6v1.6h-1.6zM413.6 249.4h1.6v1.6h-1.6zM401.4 242.0h1.6v1.6h-1.6zM409.2 236.2h1.6v1.6h-1.6zM412.9 248.5h1.6v1.6h-1.6zM396.4 249.6h1.6v1.6h-1.6zM413.1 250.8h1.6v1.6h-1.6zM413.7 238.6h1.6v1.6h-1.6zM405.8 225.7h1.6v1.6h-1.6zM412.9 251.3h1.6v1.6h-1.6zM399.0 248.7h1.6v1.6h-1.6zM412.6 257.5h1.6v1.6h-1.6zM416.6 260.3h1.6v1.6h-1.6zM409.0 258.2h1.6v1.6h-1.6zM396.2 250.0h1.6v1.6h-1.6zM402.4 227.9h1.6v1.6h-1.6zM411.8 261.2h1.6v1.6h-1.6zM415.6 257.8h1.6v1.6h-1.6zM402.9 233.9h1.6v1.6h-1.6zM394.3 240.7h1.6v1.6h-1.6zM399.5 259.6h1.6v1.6h-1.6zM404.1 243.0h1.6v1.6h-1.6zM391.7 172.2h1.6v1.6h-1.6zM395.2 179.7h1.6v1.6h-1.6zM415.2 187.7h1.6v1.6h-1.6zM390.2 208.7h1.6v1.6h-1.6zM397.7 209.7h1.6v1.6h-1.6zM407.2 218.2h1.6v1.6h-1.6zM410.7 218.7h1.6v1.6h-1.6zM403.2 223.2h1.6v1.6h-1.6zM389.2 228.2h1.6v1.6h-1.6zM389.7 230.2h1.6v1.6h-1.6z" fill="#050505"/>
<circle cx="404.5" cy="242.8" r="1.3" fill="#f2ee1a"/>
<polygon fill="#b5231f" points="377.30,160.40 378.17,162.30 380.25,162.54 378.72,163.96 379.12,166.01 377.30,164.99 375.48,166.01 375.88,163.96 374.35,162.54 376.43,162.30"/>
<polygon fill="#b5231f" points="385.10,160.40 385.97,162.30 388.05,162.54 386.52,163.96 386.92,166.01 385.10,164.99 383.28,166.01 383.68,163.96 382.15,162.54 384.23,162.30"/>
<text x="364.5" y="275.8" class="cm">C</text>
<text x="404.5" y="275.8" class="cm">M</text>
<rect x="451.6" y="159.4" width="86.3" height="109.6" fill="#fff" stroke="#a3a3a3" stroke-width="0.8"/>
<text x="489.6" y="156.75" class="t" textLength="14.5" lengthAdjust="spacingAndGlyphs">NAS</text>
<text x="449.5" y="175.9" class="ax">0.20</text>
<rect x="450.4" y="174.05" width="1.2" height="0.5" fill="#444"/>
<text x="449.5" y="200.2" class="ax">0.15</text>
<rect x="450.4" y="198.35" width="1.2" height="0.5" fill="#444"/>
<text x="449.5" y="224.9" class="ax">0.10</text>
<rect x="450.4" y="223.05" width="1.2" height="0.5" fill="#444"/>
<text x="449.5" y="249.2" class="ax">0.05</text>
<rect x="450.4" y="247.35" width="1.2" height="0.5" fill="#444"/>
<rect x="474.80" y="208.6" width="0.9" height="26.7" fill="#6e6e6e"/>
<rect x="460.2" y="221.6" width="30.1" height="11.0" fill="#1b7cc4" stroke="#222" stroke-width="0.6"/>
<rect x="460.2" y="227.65" width="30.1" height="0.9" fill="#2a2a2a"/>
<path d="M488.9 231.8h1.6v1.6h-1.6zM478.3 227.8h1.6v1.6h-1.6zM477.3 220.5h1.6v1.6h-1.6zM460.5 229.6h1.6v1.6h-1.6zM485.1 234.5h1.6v1.6h-1.6zM467.5 229.9h1.6v1.6h-1.6zM487.4 218.4h1.6v1.6h-1.6zM487.9 212.1h1.6v1.6h-1.6zM465.7 227.5h1.6v1.6h-1.6zM461.4 231.9h1.6v1.6h-1.6zM473.2 226.5h1.6v1.6h-1.6zM461.8 210.0h1.6v1.6h-1.6zM463.4 223.4h1.6v1.6h-1.6zM476.3 219.9h1.6v1.6h-1.6zM479.4 227.0h1.6v1.6h-1.6zM464.5 229.3h1.6v1.6h-1.6zM466.4 208.0h1.6v1.6h-1.6zM470.1 232.3h1.6v1.6h-1.6zM484.3 210.2h1.6v1.6h-1.6zM480.5 233.8h1.6v1.6h-1.6zM461.5 227.2h1.6v1.6h-1.6zM487.2 233.7h1.6v1.6h-1.6zM477.1 222.7h1.6v1.6h-1.6zM469.3 220.7h1.6v1.6h-1.6zM473.9 227.9h1.6v1.6h-1.6zM464.1 232.2h1.6v1.6h-1.6zM480.8 220.9h1.6v1.6h-1.6zM486.9 231.8h1.6v1.6h-1.6zM485.1 234.3h1.6v1.6h-1.6zM472.9 220.5h1.6v1.6h-1.6zM484.4 234.3h1.6v1.6h-1.6zM469.8 223.7h1.6v1.6h-1.6zM478.2 217.8h1.6v1.6h-1.6zM461.6 232.2h1.6v1.6h-1.6zM464.1 224.4h1.6v1.6h-1.6zM471.9 219.9h1.6v1.6h-1.6zM484.3 232.3h1.6v1.6h-1.6zM474.2 228.1h1.6v1.6h-1.6zM463.2 231.4h1.6v1.6h-1.6zM485.9 220.8h1.6v1.6h-1.6zM473.8 222.2h1.6v1.6h-1.6zM465.8 228.5h1.6v1.6h-1.6zM488.9 231.8h1.6v1.6h-1.6zM468.3 220.7h1.6v1.6h-1.6zM481.0 220.8h1.6v1.6h-1.6zM460.4 231.7h1.6v1.6h-1.6zM464.0 219.3h1.6v1.6h-1.6zM475.2 233.9h1.6v1.6h-1.6zM486.4 232.7h1.6v1.6h-1.6zM463.9 233.1h1.6v1.6h-1.6zM480.6 233.7h1.6v1.6h-1.6zM462.4 231.9h1.6v1.6h-1.6zM467.9 224.0h1.6v1.6h-1.6zM480.5 233.2h1.6v1.6h-1.6zM465.8 216.4h1.6v1.6h-1.6zM471.8 233.6h1.6v1.6h-1.6zM483.5 221.2h1.6v1.6h-1.6zM485.1 231.1h1.6v1.6h-1.6zM486.4 227.4h1.6v1.6h-1.6zM467.6 231.2h1.6v1.6h-1.6zM470.6 233.9h1.6v1.6h-1.6zM477.2 232.5h1.6v1.6h-1.6zM472.9 233.0h1.6v1.6h-1.6zM480.7 221.6h1.6v1.6h-1.6zM469.2 211.1h1.6v1.6h-1.6zM481.8 223.3h1.6v1.6h-1.6zM487.7 234.1h1.6v1.6h-1.6zM475.3 229.6h1.6v1.6h-1.6zM488.1 220.9h1.6v1.6h-1.6zM462.9 232.1h1.6v1.6h-1.6zM460.8 231.0h1.6v1.6h-1.6zM465.6 233.5h1.6v1.6h-1.6zM466.2 189.7h1.6v1.6h-1.6zM482.7 189.7h1.6v1.6h-1.6zM474.2 198.7h1.6v1.6h-1.6zM467.2 201.2h1.6v1.6h-1.6zM489.2 197.7h1.6v1.6h-1.6zM464.2 209.2h1.6v1.6h-1.6zM485.2 210.2h1.6v1.6h-1.6zM467.2 212.2h1.6v1.6h-1.6z" fill="#050505"/>
<circle cx="474.9" cy="224.7" r="1.3" fill="#f2ee1a"/>
<rect x="513.55" y="183.9" width="0.9" height="46.9" fill="#6e6e6e"/>
<rect x="498.6" y="208.2" width="30.8" height="19.6" fill="#b3211c" stroke="#222" stroke-width="0.6"/>
<rect x="498.6" y="218.35" width="30.8" height="0.9" fill="#2a2a2a"/>
<path d="M515.5 228.5h1.6v1.6h-1.6zM501.4 214.8h1.6v1.6h-1.6zM499.6 194.9h1.6v1.6h-1.6zM513.2 228.2h1.6v1.6h-1.6zM510.4 219.1h1.6v1.6h-1.6zM524.0 228.5h1.6v1.6h-1.6zM520.5 228.5h1.6v1.6h-1.6zM526.2 229.3h1.6v1.6h-1.6zM523.3 221.8h1.6v1.6h-1.6zM526.4 211.6h1.6v1.6h-1.6zM505.5 204.6h1.6v1.6h-1.6zM527.5 221.9h1.6v1.6h-1.6zM522.6 187.2h1.6v1.6h-1.6zM513.7 207.3h1.6v1.6h-1.6zM505.7 186.2h1.6v1.6h-1.6zM509.2 223.7h1.6v1.6h-1.6zM511.2 208.1h1.6v1.6h-1.6zM502.5 207.6h1.6v1.6h-1.6zM526.2 192.7h1.6v1.6h-1.6zM524.7 216.0h1.6v1.6h-1.6zM517.4 207.4h1.6v1.6h-1.6zM506.4 224.1h1.6v1.6h-1.6zM516.8 217.2h1.6v1.6h-1.6zM511.2 222.7h1.6v1.6h-1.6zM507.4 205.4h1.6v1.6h-1.6zM516.0 208.7h1.6v1.6h-1.6zM506.3 201.0h1.6v1.6h-1.6zM502.7 222.8h1.6v1.6h-1.6zM507.0 227.2h1.6v1.6h-1.6zM505.6 220.6h1.6v1.6h-1.6zM523.3 228.4h1.6v1.6h-1.6zM517.7 213.4h1.6v1.6h-1.6zM512.0 228.9h1.6v1.6h-1.6zM512.3 213.9h1.6v1.6h-1.6zM504.9 220.2h1.6v1.6h-1.6zM515.8 211.5h1.6v1.6h-1.6zM524.0 227.8h1.6v1.6h-1.6zM512.9 228.4h1.6v1.6h-1.6zM507.1 226.9h1.6v1.6h-1.6zM500.3 206.8h1.6v1.6h-1.6zM500.1 202.7h1.6v1.6h-1.6zM520.2 222.0h1.6v1.6h-1.6zM526.9 227.4h1.6v1.6h-1.6zM508.3 209.0h1.6v1.6h-1.6zM516.7 224.1h1.6v1.6h-1.6zM513.7 191.0h1.6v1.6h-1.6zM520.9 215.3h1.6v1.6h-1.6zM519.4 225.1h1.6v1.6h-1.6zM524.3 207.0h1.6v1.6h-1.6zM515.8 229.1h1.6v1.6h-1.6zM515.3 226.7h1.6v1.6h-1.6zM524.3 225.1h1.6v1.6h-1.6zM511.8 211.4h1.6v1.6h-1.6zM507.0 224.5h1.6v1.6h-1.6zM509.8 223.0h1.6v1.6h-1.6zM523.6 225.1h1.6v1.6h-1.6zM503.8 222.0h1.6v1.6h-1.6zM515.4 219.3h1.6v1.6h-1.6zM525.7 208.3h1.6v1.6h-1.6zM523.3 225.6h1.6v1.6h-1.6zM511.0 206.4h1.6v1.6h-1.6zM499.7 207.4h1.6v1.6h-1.6zM525.7 212.7h1.6v1.6h-1.6zM528.1 200.4h1.6v1.6h-1.6zM518.7 212.9h1.6v1.6h-1.6zM516.0 221.2h1.6v1.6h-1.6zM518.5 226.5h1.6v1.6h-1.6zM509.5 208.4h1.6v1.6h-1.6zM515.4 223.1h1.6v1.6h-1.6zM512.8 184.8h1.6v1.6h-1.6zM528.0 223.6h1.6v1.6h-1.6zM522.6 222.8h1.6v1.6h-1.6zM524.2 164.7h1.6v1.6h-1.6zM498.7 173.7h1.6v1.6h-1.6zM505.2 172.7h1.6v1.6h-1.6zM502.2 181.7h1.6v1.6h-1.6zM525.2 182.2h1.6v1.6h-1.6zM522.2 187.7h1.6v1.6h-1.6zM514.2 191.2h1.6v1.6h-1.6zM519.2 191.2h1.6v1.6h-1.6zM505.7 262.7h1.6v1.6h-1.6zM524.7 261.7h1.6v1.6h-1.6zM500.2 235.2h1.6v1.6h-1.6zM509.2 234.2h1.6v1.6h-1.6zM527.2 232.2h1.6v1.6h-1.6z" fill="#050505"/>
<circle cx="513.6" cy="217.8" r="1.3" fill="#f2ee1a"/>
<polygon fill="#b5231f" points="489.70,162.10 490.57,164.00 492.65,164.24 491.12,165.66 491.52,167.71 489.70,166.69 487.88,167.71 488.28,165.66 486.75,164.24 488.83,164.00"/>
<text x="474.9" y="275.7" class="cm">C</text>
<text x="513.1" y="275.7" class="cm">M</text>
<rect x="22.8" y="300.3" width="88.4" height="110.6" fill="#fff" stroke="#a3a3a3" stroke-width="0.8"/>
<text x="68" y="298.25" class="t" textLength="25.4" lengthAdjust="spacingAndGlyphs">MEOTA</text>
<text x="20.7" y="319.8" class="ax">75</text>
<rect x="21.6" y="317.95" width="1.2" height="0.5" fill="#444"/>
<text x="20.7" y="348.9" class="ax">50</text>
<rect x="21.6" y="347.05" width="1.2" height="0.5" fill="#444"/>
<text x="20.7" y="378.2" class="ax">25</text>
<rect x="21.6" y="376.45" width="1.2" height="0.5" fill="#444"/>
<text x="20.7" y="407.7" class="ax">0</text>
<rect x="21.6" y="405.85" width="1.2" height="0.5" fill="#444"/>
<rect x="46.00" y="402.6" width="0.9" height="2.8" fill="#6e6e6e"/>
<rect x="30.4" y="403.6" width="32.1" height="1.4" fill="#111" stroke="#222" stroke-width="0.6"/>
<rect x="30.4" y="403.85" width="32.1" height="0.9" fill="#2a2a2a"/>
<path d="M60.5 404.3h1.6v1.6h-1.6zM33.5 402.5h1.6v1.6h-1.6zM55.6 402.3h1.6v1.6h-1.6zM43.2 402.0h1.6v1.6h-1.6zM46.0 404.3h1.6v1.6h-1.6zM35.8 402.9h1.6v1.6h-1.6zM41.1 403.2h1.6v1.6h-1.6zM31.4 402.4h1.6v1.6h-1.6zM39.6 404.1h1.6v1.6h-1.6zM39.6 402.8h1.6v1.6h-1.6zM50.9 402.5h1.6v1.6h-1.6zM47.3 404.4h1.6v1.6h-1.6zM46.6 404.0h1.6v1.6h-1.6zM42.9 402.5h1.6v1.6h-1.6zM53.7 404.2h1.6v1.6h-1.6zM35.4 404.2h1.6v1.6h-1.6zM49.2 403.4h1.6v1.6h-1.6zM30.5 402.8h1.6v1.6h-1.6zM52.4 402.7h1.6v1.6h-1.6zM38.4 403.6h1.6v1.6h-1.6zM48.2 404.6h1.6v1.6h-1.6zM42.1 403.8h1.6v1.6h-1.6zM48.2 404.5h1.6v1.6h-1.6zM49.4 402.6h1.6v1.6h-1.6zM59.0 404.2h1.6v1.6h-1.6zM58.1 402.7h1.6v1.6h-1.6zM48.8 402.7h1.6v1.6h-1.6zM59.6 402.6h1.6v1.6h-1.6zM52.4 404.3h1.6v1.6h-1.6zM57.3 404.3h1.6v1.6h-1.6zM37.7 404.1h1.6v1.6h-1.6zM35.9 404.3h1.6v1.6h-1.6zM47.6 402.7h1.6v1.6h-1.6zM42.1 404.4h1.6v1.6h-1.6zM33.9 403.5h1.6v1.6h-1.6zM37.7 402.7h1.6v1.6h-1.6zM37.5 404.3h1.6v1.6h-1.6zM40.7 404.4h1.6v1.6h-1.6zM33.0 404.5h1.6v1.6h-1.6zM34.1 404.1h1.6v1.6h-1.6zM55.1 404.1h1.6v1.6h-1.6zM52.6 404.3h1.6v1.6h-1.6zM36.6 404.2h1.6v1.6h-1.6zM37.2 402.5h1.6v1.6h-1.6zM52.1 403.6h1.6v1.6h-1.6zM48.4 404.1h1.6v1.6h-1.6zM49.0 403.7h1.6v1.6h-1.6zM33.9 404.5h1.6v1.6h-1.6zM38.5 403.2h1.6v1.6h-1.6zM50.5 402.7h1.6v1.6h-1.6zM42.2 403.0h1.6v1.6h-1.6zM56.6 404.2h1.6v1.6h-1.6zM33.5 404.0h1.6v1.6h-1.6zM45.7 403.1h1.6v1.6h-1.6zM39.8 403.5h1.6v1.6h-1.6zM52.4 404.2h1.6v1.6h-1.6zM58.4 403.8h1.6v1.6h-1.6zM56.9 402.0h1.6v1.6h-1.6zM31.0 404.3h1.6v1.6h-1.6zM41.0 403.3h1.6v1.6h-1.6zM51.8 404.0h1.6v1.6h-1.6zM41.1 404.5h1.6v1.6h-1.6zM33.7 402.9h1.6v1.6h-1.6zM52.3 402.3h1.6v1.6h-1.6zM35.1 404.2h1.6v1.6h-1.6zM41.9 404.3h1.6v1.6h-1.6zM50.0 404.3h1.6v1.6h-1.6zM47.8 404.5h1.6v1.6h-1.6zM43.6 403.0h1.6v1.6h-1.6zM30.1 403.0h1.6v1.6h-1.6zM39.0 402.2h1.6v1.6h-1.6zM49.0 404.5h1.6v1.6h-1.6zM33.6 404.3h1.6v1.6h-1.6zM58.5 402.8h1.6v1.6h-1.6zM51.7 402.9h1.6v1.6h-1.6zM55.9 404.0h1.6v1.6h-1.6zM59.5 403.6h1.6v1.6h-1.6zM51.6 404.2h1.6v1.6h-1.6zM49.6 403.4h1.6v1.6h-1.6zM51.8 403.5h1.6v1.6h-1.6zM59.0 403.9h1.6v1.6h-1.6zM31.5 404.5h1.6v1.6h-1.6zM38.2 403.4h1.6v1.6h-1.6zM49.9 403.5h1.6v1.6h-1.6zM31.9 403.0h1.6v1.6h-1.6zM36.4 403.8h1.6v1.6h-1.6zM52.1 403.6h1.6v1.6h-1.6zM37.6 403.0h1.6v1.6h-1.6zM59.2 403.1h1.6v1.6h-1.6zM57.6 403.7h1.6v1.6h-1.6zM40.5 404.4h1.6v1.6h-1.6zM53.8 402.5h1.6v1.6h-1.6zM48.7 404.4h1.6v1.6h-1.6zM55.9 404.0h1.6v1.6h-1.6zM41.3 404.3h1.6v1.6h-1.6zM46.7 397.0h1.6v1.6h-1.6zM39.7 399.2h1.6v1.6h-1.6zM60.7 401.7h1.6v1.6h-1.6z" fill="#050505"/>
<circle cx="47" cy="404.5" r="1.3" fill="#f2ee1a"/>
<rect x="86.60" y="402.4" width="0.9" height="3.0" fill="#6e6e6e"/>
<rect x="71" y="403.4" width="32.1" height="1.6" fill="#111" stroke="#222" stroke-width="0.6"/>
<rect x="71" y="403.75" width="32.1" height="0.9" fill="#2a2a2a"/>
<path d="M79.4 404.2h1.6v1.6h-1.6zM84.6 404.5h1.6v1.6h-1.6zM85.3 404.3h1.6v1.6h-1.6zM72.9 403.5h1.6v1.6h-1.6zM94.0 404.6h1.6v1.6h-1.6zM101.2 404.5h1.6v1.6h-1.6zM85.9 402.7h1.6v1.6h-1.6zM87.6 403.6h1.6v1.6h-1.6zM90.7 404.6h1.6v1.6h-1.6zM91.0 403.3h1.6v1.6h-1.6zM75.0 403.6h1.6v1.6h-1.6zM96.8 404.5h1.6v1.6h-1.6zM90.5 403.5h1.6v1.6h-1.6zM75.9 401.7h1.6v1.6h-1.6zM93.8 401.9h1.6v1.6h-1.6zM96.4 403.5h1.6v1.6h-1.6zM87.8 403.7h1.6v1.6h-1.6zM78.1 404.1h1.6v1.6h-1.6zM90.2 404.4h1.6v1.6h-1.6zM98.9 402.1h1.6v1.6h-1.6zM86.2 402.4h1.6v1.6h-1.6zM88.8 404.3h1.6v1.6h-1.6zM75.8 404.4h1.6v1.6h-1.6zM73.5 404.2h1.6v1.6h-1.6zM76.6 404.3h1.6v1.6h-1.6zM96.8 402.6h1.6v1.6h-1.6zM83.9 402.0h1.6v1.6h-1.6zM86.7 403.9h1.6v1.6h-1.6zM84.3 403.7h1.6v1.6h-1.6zM98.8 403.3h1.6v1.6h-1.6zM84.5 404.3h1.6v1.6h-1.6zM76.8 402.9h1.6v1.6h-1.6zM85.0 404.3h1.6v1.6h-1.6zM97.6 401.8h1.6v1.6h-1.6zM90.0 401.7h1.6v1.6h-1.6zM91.7 402.6h1.6v1.6h-1.6zM88.5 402.8h1.6v1.6h-1.6zM90.8 402.4h1.6v1.6h-1.6zM98.2 403.7h1.6v1.6h-1.6zM91.8 404.2h1.6v1.6h-1.6zM91.2 403.5h1.6v1.6h-1.6zM83.6 403.9h1.6v1.6h-1.6zM83.0 403.1h1.6v1.6h-1.6zM98.4 404.2h1.6v1.6h-1.6zM97.5 402.7h1.6v1.6h-1.6zM87.2 403.5h1.6v1.6h-1.6zM87.9 403.8h1.6v1.6h-1.6zM74.2 404.4h1.6v1.6h-1.6zM73.2 403.1h1.6v1.6h-1.6zM84.4 403.5h1.6v1.6h-1.6zM92.9 402.3h1.6v1.6h-1.6zM101.5 402.6h1.6v1.6h-1.6zM96.5 402.7h1.6v1.6h-1.6zM100.6 403.5h1.6v1.6h-1.6zM75.0 403.2h1.6v1.6h-1.6zM78.1 402.6h1.6v1.6h-1.6zM89.2 403.4h1.6v1.6h-1.6zM92.7 404.3h1.6v1.6h-1.6zM90.0 404.1h1.6v1.6h-1.6zM99.2 402.3h1.6v1.6h-1.6zM93.9 402.6h1.6v1.6h-1.6zM91.9 404.0h1.6v1.6h-1.6zM82.3 402.6h1.6v1.6h-1.6zM93.1 403.4h1.6v1.6h-1.6zM73.8 404.4h1.6v1.6h-1.6zM74.2 403.2h1.6v1.6h-1.6zM78.6 402.1h1.6v1.6h-1.6zM96.8 404.3h1.6v1.6h-1.6zM71.4 402.7h1.6v1.6h-1.6zM76.5 404.5h1.6v1.6h-1.6zM92.1 402.8h1.6v1.6h-1.6zM97.9 403.5h1.6v1.6h-1.6zM95.8 403.2h1.6v1.6h-1.6zM81.3 402.6h1.6v1.6h-1.6zM97.9 404.4h1.6v1.6h-1.6zM76.4 402.6h1.6v1.6h-1.6zM82.9 402.1h1.6v1.6h-1.6zM97.0 403.5h1.6v1.6h-1.6zM89.7 404.1h1.6v1.6h-1.6zM77.4 404.3h1.6v1.6h-1.6zM72.1 402.3h1.6v1.6h-1.6zM85.2 404.3h1.6v1.6h-1.6zM81.7 402.9h1.6v1.6h-1.6zM81.1 404.4h1.6v1.6h-1.6zM101.4 404.3h1.6v1.6h-1.6zM91.6 404.2h1.6v1.6h-1.6zM86.3 403.6h1.6v1.6h-1.6zM87.1 403.9h1.6v1.6h-1.6zM71.8 401.6h1.6v1.6h-1.6zM97.8 403.2h1.6v1.6h-1.6zM90.4 402.2h1.6v1.6h-1.6zM95.4 403.6h1.6v1.6h-1.6zM91.9 401.7h1.6v1.6h-1.6zM93.7 404.0h1.6v1.6h-1.6zM81.6 403.1h1.6v1.6h-1.6zM89.5 350.2h1.6v1.6h-1.6zM79.3 369.8h1.6v1.6h-1.6zM79.3 379.9h1.6v1.6h-1.6zM71.9 391.4h1.6v1.6h-1.6zM100.2 394.7h1.6v1.6h-1.6zM85.2 396.2h1.6v1.6h-1.6zM100.7 398.7h1.6v1.6h-1.6zM70.2 397.7h1.6v1.6h-1.6z" fill="#050505"/>
<circle cx="87.1" cy="401.5" r="1.3" fill="#f2ee1a"/>
<text x="46.8" y="417.6" class="cm">C</text>
<text x="87.8" y="417.6" class="cm">M</text>
<rect x="132.2" y="300.3" width="87.5" height="110.8" fill="#fff" stroke="#a3a3a3" stroke-width="0.8"/>
<text x="172.7" y="298.25" class="t" textLength="14.3" lengthAdjust="spacingAndGlyphs">MLT</text>
<text x="130.1" y="334.9" class="ax">0.2</text>
<rect x="131.0" y="333.15" width="1.2" height="0.5" fill="#444"/>
<text x="130.1" y="373.6" class="ax">0.1</text>
<rect x="131.0" y="371.75" width="1.2" height="0.5" fill="#444"/>
<rect x="155.20" y="340.2" width="0.9" height="39.8" fill="#6e6e6e"/>
<rect x="140.4" y="356.3" width="30.5" height="13.0" fill="#1b7cc4" stroke="#222" stroke-width="0.6"/>
<rect x="140.4" y="362.55" width="30.5" height="0.9" fill="#2a2a2a"/>
<path d="M141.9 358.2h1.6v1.6h-1.6zM169.3 364.2h1.6v1.6h-1.6zM147.3 364.5h1.6v1.6h-1.6zM144.1 371.2h1.6v1.6h-1.6zM153.5 377.4h1.6v1.6h-1.6zM149.0 365.8h1.6v1.6h-1.6zM149.0 368.8h1.6v1.6h-1.6zM156.4 366.8h1.6v1.6h-1.6zM167.3 353.6h1.6v1.6h-1.6zM145.4 356.0h1.6v1.6h-1.6zM150.6 362.1h1.6v1.6h-1.6zM165.7 352.5h1.6v1.6h-1.6zM166.6 372.7h1.6v1.6h-1.6zM140.8 363.8h1.6v1.6h-1.6zM160.9 370.4h1.6v1.6h-1.6zM146.0 371.7h1.6v1.6h-1.6zM159.2 361.3h1.6v1.6h-1.6zM168.5 375.7h1.6v1.6h-1.6zM164.0 356.0h1.6v1.6h-1.6zM144.1 353.6h1.6v1.6h-1.6zM165.9 373.3h1.6v1.6h-1.6zM146.4 361.7h1.6v1.6h-1.6zM159.2 366.9h1.6v1.6h-1.6zM150.1 366.5h1.6v1.6h-1.6zM141.4 371.9h1.6v1.6h-1.6zM154.7 357.7h1.6v1.6h-1.6zM153.8 357.2h1.6v1.6h-1.6zM156.7 378.2h1.6v1.6h-1.6zM158.2 355.4h1.6v1.6h-1.6zM142.9 357.7h1.6v1.6h-1.6zM162.7 369.4h1.6v1.6h-1.6zM152.6 376.7h1.6v1.6h-1.6zM156.5 359.4h1.6v1.6h-1.6zM149.9 359.5h1.6v1.6h-1.6zM161.1 357.2h1.6v1.6h-1.6zM149.2 345.8h1.6v1.6h-1.6zM153.5 340.1h1.6v1.6h-1.6zM167.9 365.5h1.6v1.6h-1.6zM154.1 368.5h1.6v1.6h-1.6zM150.8 360.7h1.6v1.6h-1.6zM162.4 354.7h1.6v1.6h-1.6zM144.1 368.6h1.6v1.6h-1.6zM156.5 372.9h1.6v1.6h-1.6zM150.9 378.4h1.6v1.6h-1.6zM161.9 369.6h1.6v1.6h-1.6zM141.0 355.1h1.6v1.6h-1.6zM169.1 354.6h1.6v1.6h-1.6zM150.3 366.2h1.6v1.6h-1.6zM149.7 352.1h1.6v1.6h-1.6zM161.7 355.3h1.6v1.6h-1.6zM152.0 374.6h1.6v1.6h-1.6zM156.7 355.4h1.6v1.6h-1.6zM168.0 368.0h1.6v1.6h-1.6zM147.5 357.0h1.6v1.6h-1.6zM146.9 364.9h1.6v1.6h-1.6zM159.1 376.0h1.6v1.6h-1.6zM146.5 368.5h1.6v1.6h-1.6zM165.6 356.6h1.6v1.6h-1.6zM162.3 354.3h1.6v1.6h-1.6zM149.9 354.2h1.6v1.6h-1.6zM144.9 367.8h1.6v1.6h-1.6zM153.5 359.5h1.6v1.6h-1.6zM146.3 361.4h1.6v1.6h-1.6zM163.1 353.4h1.6v1.6h-1.6zM165.6 355.0h1.6v1.6h-1.6zM140.8 354.1h1.6v1.6h-1.6zM140.4 378.8h1.6v1.6h-1.6zM161.8 355.1h1.6v1.6h-1.6zM160.2 369.6h1.6v1.6h-1.6zM167.2 371.1h1.6v1.6h-1.6zM169.0 361.4h1.6v1.6h-1.6zM163.5 370.1h1.6v1.6h-1.6zM144.2 323.7h1.6v1.6h-1.6zM161.2 321.7h1.6v1.6h-1.6zM153.2 334.2h1.6v1.6h-1.6zM139.2 335.7h1.6v1.6h-1.6zM142.7 340.2h1.6v1.6h-1.6zM161.2 340.7h1.6v1.6h-1.6zM147.2 344.2h1.6v1.6h-1.6zM139.7 345.7h1.6v1.6h-1.6zM169.2 346.7h1.6v1.6h-1.6zM169.7 350.7h1.6v1.6h-1.6zM144.7 379.7h1.6v1.6h-1.6zM170.2 378.7h1.6v1.6h-1.6z" fill="#050505"/>
<circle cx="155.6" cy="359.4" r="1.3" fill="#f2ee1a"/>
<rect x="195.05" y="349.5" width="0.9" height="30.5" fill="#6e6e6e"/>
<rect x="180.3" y="364.0" width="30.4" height="8.8" fill="#b3211c" stroke="#222" stroke-width="0.6"/>
<rect x="180.3" y="368.15" width="30.4" height="0.9" fill="#2a2a2a"/>
<path d="M194.8 363.4h1.6v1.6h-1.6zM183.1 374.4h1.6v1.6h-1.6zM189.3 379.1h1.6v1.6h-1.6zM194.3 363.0h1.6v1.6h-1.6zM185.3 374.4h1.6v1.6h-1.6zM201.7 363.9h1.6v1.6h-1.6zM190.4 363.7h1.6v1.6h-1.6zM190.3 371.7h1.6v1.6h-1.6zM206.0 378.9h1.6v1.6h-1.6zM185.2 364.5h1.6v1.6h-1.6zM181.3 368.1h1.6v1.6h-1.6zM196.4 365.1h1.6v1.6h-1.6zM200.2 367.8h1.6v1.6h-1.6zM196.1 365.7h1.6v1.6h-1.6zM205.7 367.7h1.6v1.6h-1.6zM189.4 365.0h1.6v1.6h-1.6zM191.4 371.9h1.6v1.6h-1.6zM184.2 369.5h1.6v1.6h-1.6zM197.9 363.2h1.6v1.6h-1.6zM198.0 362.3h1.6v1.6h-1.6zM185.8 368.8h1.6v1.6h-1.6zM203.0 377.8h1.6v1.6h-1.6zM200.4 363.2h1.6v1.6h-1.6zM196.1 370.5h1.6v1.6h-1.6zM180.0 371.9h1.6v1.6h-1.6zM195.0 367.1h1.6v1.6h-1.6zM186.9 367.8h1.6v1.6h-1.6zM191.1 366.6h1.6v1.6h-1.6zM195.5 365.0h1.6v1.6h-1.6zM189.5 366.3h1.6v1.6h-1.6zM186.6 365.7h1.6v1.6h-1.6zM206.7 364.4h1.6v1.6h-1.6zM195.3 370.8h1.6v1.6h-1.6zM184.2 368.7h1.6v1.6h-1.6zM195.4 359.1h1.6v1.6h-1.6zM187.0 366.9h1.6v1.6h-1.6zM193.5 377.6h1.6v1.6h-1.6zM206.3 367.0h1.6v1.6h-1.6zM191.2 363.2h1.6v1.6h-1.6zM183.6 353.5h1.6v1.6h-1.6zM183.0 373.2h1.6v1.6h-1.6zM195.3 371.2h1.6v1.6h-1.6zM191.6 368.2h1.6v1.6h-1.6zM193.2 356.2h1.6v1.6h-1.6zM202.3 371.2h1.6v1.6h-1.6zM190.8 376.4h1.6v1.6h-1.6zM190.9 364.3h1.6v1.6h-1.6zM180.5 369.4h1.6v1.6h-1.6zM181.7 375.5h1.6v1.6h-1.6zM188.1 376.7h1.6v1.6h-1.6zM204.5 368.8h1.6v1.6h-1.6zM205.3 376.0h1.6v1.6h-1.6zM203.3 374.4h1.6v1.6h-1.6zM181.3 364.9h1.6v1.6h-1.6zM200.9 369.3h1.6v1.6h-1.6zM199.1 369.5h1.6v1.6h-1.6zM191.3 361.4h1.6v1.6h-1.6zM185.6 367.5h1.6v1.6h-1.6zM190.9 355.9h1.6v1.6h-1.6zM182.1 364.7h1.6v1.6h-1.6zM195.5 361.1h1.6v1.6h-1.6zM202.3 371.6h1.6v1.6h-1.6zM193.6 375.6h1.6v1.6h-1.6zM192.2 371.3h1.6v1.6h-1.6zM192.9 371.5h1.6v1.6h-1.6zM204.2 369.9h1.6v1.6h-1.6zM191.8 366.6h1.6v1.6h-1.6zM196.3 376.4h1.6v1.6h-1.6zM183.5 354.6h1.6v1.6h-1.6zM204.0 372.3h1.6v1.6h-1.6zM202.1 372.3h1.6v1.6h-1.6zM200.0 363.5h1.6v1.6h-1.6zM181.2 343.2h1.6v1.6h-1.6zM193.2 347.2h1.6v1.6h-1.6zM198.7 351.2h1.6v1.6h-1.6zM205.2 353.7h1.6v1.6h-1.6zM187.2 356.2h1.6v1.6h-1.6zM195.2 404.7h1.6v1.6h-1.6zM197.2 405.7h1.6v1.6h-1.6zM181.2 380.2h1.6v1.6h-1.6zM209.7 379.2h1.6v1.6h-1.6z" fill="#050505"/>
<circle cx="195.9" cy="369.2" r="1.3" fill="#f2ee1a"/>
<polygon fill="#b5231f" points="169.20,304.20 170.07,306.10 172.15,306.34 170.62,307.76 171.02,309.81 169.20,308.79 167.38,309.81 167.78,307.76 166.25,306.34 168.33,306.10"/>
<polygon fill="#b5231f" points="177.20,304.20 178.07,306.10 180.15,306.34 178.62,307.76 179.02,309.81 177.20,308.79 175.38,309.81 175.78,307.76 174.25,306.34 176.33,306.10"/>
<text x="156.5" y="417.8" class="cm">C</text>
<text x="195.6" y="417.8" class="cm">M</text>
<rect x="236.1" y="300.3" width="85.5" height="110.5" fill="#fff" stroke="#a3a3a3" stroke-width="0.8"/>
<text x="276.1" y="299.85" class="t" textLength="31.5" lengthAdjust="spacingAndGlyphs">5-HT/TRP</text>
<text x="234.0" y="330.9" class="ax">0.10</text>
<rect x="234.9" y="329.15" width="1.2" height="0.5" fill="#444"/>
<text x="234.0" y="369.2" class="ax">0.05</text>
<rect x="234.9" y="367.35" width="1.2" height="0.5" fill="#444"/>
<text x="234.0" y="407.7" class="ax">0.00</text>
<rect x="234.9" y="405.85" width="1.2" height="0.5" fill="#444"/>
<rect x="258.15" y="405.2" width="0.9" height="1.2" fill="#6e6e6e"/>
<rect x="243.7" y="405.5" width="29.8" height="0.8" fill="#111" stroke="#222" stroke-width="0.6"/>
<rect x="243.7" y="405.35" width="29.8" height="0.9" fill="#2a2a2a"/>
<path d="M245.0 404.8h1.6v1.6h-1.6zM260.2 404.8h1.6v1.6h-1.6zM268.5 404.5h1.6v1.6h-1.6zM258.3 405.4h1.6v1.6h-1.6zM251.3 405.6h1.6v1.6h-1.6zM250.7 405.1h1.6v1.6h-1.6zM258.1 404.6h1.6v1.6h-1.6zM252.2 405.0h1.6v1.6h-1.6zM268.1 404.5h1.6v1.6h-1.6zM244.9 405.1h1.6v1.6h-1.6zM256.8 404.8h1.6v1.6h-1.6zM253.9 405.2h1.6v1.6h-1.6zM269.9 404.7h1.6v1.6h-1.6zM252.5 404.7h1.6v1.6h-1.6zM259.7 404.8h1.6v1.6h-1.6zM266.3 405.1h1.6v1.6h-1.6zM266.5 405.2h1.6v1.6h-1.6zM270.3 404.8h1.6v1.6h-1.6zM245.1 405.3h1.6v1.6h-1.6zM244.8 405.2h1.6v1.6h-1.6zM260.6 404.7h1.6v1.6h-1.6zM259.6 405.6h1.6v1.6h-1.6zM262.8 404.6h1.6v1.6h-1.6zM249.5 404.8h1.6v1.6h-1.6zM269.8 404.7h1.6v1.6h-1.6zM246.1 405.3h1.6v1.6h-1.6zM255.3 404.4h1.6v1.6h-1.6zM269.5 404.8h1.6v1.6h-1.6zM245.0 404.7h1.6v1.6h-1.6zM267.5 404.7h1.6v1.6h-1.6zM260.2 405.1h1.6v1.6h-1.6zM247.8 405.2h1.6v1.6h-1.6zM267.6 404.7h1.6v1.6h-1.6zM271.6 405.5h1.6v1.6h-1.6zM254.3 405.0h1.6v1.6h-1.6zM259.1 404.8h1.6v1.6h-1.6zM264.4 405.4h1.6v1.6h-1.6zM246.7 405.2h1.6v1.6h-1.6zM270.0 404.7h1.6v1.6h-1.6zM258.6 404.4h1.6v1.6h-1.6zM265.0 405.1h1.6v1.6h-1.6zM246.1 405.3h1.6v1.6h-1.6zM260.6 405.3h1.6v1.6h-1.6zM247.4 404.7h1.6v1.6h-1.6zM267.7 405.3h1.6v1.6h-1.6zM244.3 405.6h1.6v1.6h-1.6zM253.3 405.0h1.6v1.6h-1.6zM244.8 404.6h1.6v1.6h-1.6zM250.5 405.1h1.6v1.6h-1.6zM266.1 404.8h1.6v1.6h-1.6zM259.5 405.0h1.6v1.6h-1.6zM266.1 405.4h1.6v1.6h-1.6zM244.4 404.8h1.6v1.6h-1.6zM262.0 404.7h1.6v1.6h-1.6zM253.6 405.4h1.6v1.6h-1.6zM248.1 405.2h1.6v1.6h-1.6zM253.0 405.6h1.6v1.6h-1.6zM257.2 404.5h1.6v1.6h-1.6zM268.7 405.3h1.6v1.6h-1.6zM258.8 405.4h1.6v1.6h-1.6zM248.1 405.4h1.6v1.6h-1.6zM254.0 404.9h1.6v1.6h-1.6zM249.3 405.4h1.6v1.6h-1.6zM268.5 405.3h1.6v1.6h-1.6zM243.8 405.0h1.6v1.6h-1.6zM266.2 404.6h1.6v1.6h-1.6zM250.0 404.9h1.6v1.6h-1.6zM251.0 404.7h1.6v1.6h-1.6zM258.3 405.4h1.6v1.6h-1.6zM245.8 405.3h1.6v1.6h-1.6zM246.7 388.7h1.6v1.6h-1.6zM244.7 401.7h1.6v1.6h-1.6zM258.7 400.2h1.6v1.6h-1.6zM264.2 400.0h1.6v1.6h-1.6zM265.7 401.2h1.6v1.6h-1.6z" fill="#050505"/>
<circle cx="259" cy="405.8" r="1.3" fill="#f2ee1a"/>
<rect x="297.35" y="385.5" width="0.9" height="21.1" fill="#6e6e6e"/>
<rect x="282.6" y="394.9" width="30.4" height="10.2" fill="#b3211c" stroke="#222" stroke-width="0.6"/>
<rect x="282.6" y="400.55" width="30.4" height="0.9" fill="#2a2a2a"/>
<path d="M299.8 401.2h1.6v1.6h-1.6zM284.1 398.4h1.6v1.6h-1.6zM311.2 405.1h1.6v1.6h-1.6zM302.6 405.1h1.6v1.6h-1.6zM306.1 396.2h1.6v1.6h-1.6zM282.6 404.0h1.6v1.6h-1.6zM294.3 392.5h1.6v1.6h-1.6zM303.9 404.5h1.6v1.6h-1.6zM292.4 395.0h1.6v1.6h-1.6zM288.8 404.5h1.6v1.6h-1.6zM311.6 404.2h1.6v1.6h-1.6zM296.9 397.0h1.6v1.6h-1.6zM304.4 399.6h1.6v1.6h-1.6zM300.7 395.3h1.6v1.6h-1.6zM285.0 398.9h1.6v1.6h-1.6zM287.1 396.2h1.6v1.6h-1.6zM304.2 389.8h1.6v1.6h-1.6zM309.9 405.5h1.6v1.6h-1.6zM306.8 398.6h1.6v1.6h-1.6zM295.1 397.7h1.6v1.6h-1.6zM307.9 398.9h1.6v1.6h-1.6zM297.9 405.7h1.6v1.6h-1.6zM310.8 394.0h1.6v1.6h-1.6zM306.9 395.6h1.6v1.6h-1.6zM295.8 404.5h1.6v1.6h-1.6zM309.0 404.9h1.6v1.6h-1.6zM293.8 398.4h1.6v1.6h-1.6zM302.4 398.9h1.6v1.6h-1.6zM294.2 387.7h1.6v1.6h-1.6zM306.9 405.2h1.6v1.6h-1.6zM306.9 402.6h1.6v1.6h-1.6zM296.7 394.1h1.6v1.6h-1.6zM306.2 404.4h1.6v1.6h-1.6zM295.8 402.7h1.6v1.6h-1.6zM292.7 401.1h1.6v1.6h-1.6zM290.9 397.9h1.6v1.6h-1.6zM302.9 404.6h1.6v1.6h-1.6zM306.0 402.9h1.6v1.6h-1.6zM283.5 405.2h1.6v1.6h-1.6zM290.3 395.2h1.6v1.6h-1.6zM288.9 392.9h1.6v1.6h-1.6zM308.6 397.8h1.6v1.6h-1.6zM310.4 402.2h1.6v1.6h-1.6zM287.9 404.3h1.6v1.6h-1.6zM297.8 395.1h1.6v1.6h-1.6zM310.1 404.5h1.6v1.6h-1.6zM289.7 403.5h1.6v1.6h-1.6zM298.5 400.6h1.6v1.6h-1.6zM293.4 397.2h1.6v1.6h-1.6zM301.9 386.6h1.6v1.6h-1.6zM295.4 405.1h1.6v1.6h-1.6zM301.7 392.9h1.6v1.6h-1.6zM297.7 396.4h1.6v1.6h-1.6zM296.9 399.6h1.6v1.6h-1.6zM284.0 404.2h1.6v1.6h-1.6zM298.7 398.3h1.6v1.6h-1.6zM308.5 403.3h1.6v1.6h-1.6zM283.3 398.7h1.6v1.6h-1.6zM310.3 400.8h1.6v1.6h-1.6zM299.6 395.0h1.6v1.6h-1.6zM293.8 400.4h1.6v1.6h-1.6zM290.6 398.0h1.6v1.6h-1.6zM298.3 395.9h1.6v1.6h-1.6zM301.4 404.2h1.6v1.6h-1.6zM293.5 398.2h1.6v1.6h-1.6zM302.6 389.4h1.6v1.6h-1.6zM299.2 404.4h1.6v1.6h-1.6zM292.5 398.9h1.6v1.6h-1.6zM308.1 404.9h1.6v1.6h-1.6zM287.3 405.3h1.6v1.6h-1.6zM291.1 400.4h1.6v1.6h-1.6zM310.6 404.2h1.6v1.6h-1.6zM301.2 304.7h1.6v1.6h-1.6zM295.7 337.7h1.6v1.6h-1.6zM289.7 349.7h1.6v1.6h-1.6zM297.2 356.7h1.6v1.6h-1.6zM290.7 361.7h1.6v1.6h-1.6zM294.7 361.2h1.6v1.6h-1.6zM291.7 373.7h1.6v1.6h-1.6zM299.7 375.7h1.6v1.6h-1.6zM294.2 383.7h1.6v1.6h-1.6zM304.2 386.2h1.6v1.6h-1.6zM285.2 387.2h1.6v1.6h-1.6zM302.2 389.2h1.6v1.6h-1.6zM300.2 390.2h1.6v1.6h-1.6z" fill="#050505"/>
<circle cx="297.8" cy="396" r="1.3" fill="#f2ee1a"/>
<polygon fill="#b5231f" points="270.80,303.30 271.67,305.20 273.75,305.44 272.22,306.86 272.62,308.91 270.80,307.89 268.98,308.91 269.38,306.86 267.85,305.44 269.93,305.20"/>
<polygon fill="#b5231f" points="278.50,303.30 279.37,305.20 281.45,305.44 279.92,306.86 280.32,308.91 278.50,307.89 276.68,308.91 277.08,306.86 275.55,305.44 277.63,305.20"/>
<text x="258.6" y="417.5" class="cm">C</text>
<text x="298.3" y="417.5" class="cm">M</text>
<rect x="340.8" y="300.2" width="88.3" height="110.8" fill="#fff" stroke="#a3a3a3" stroke-width="0.8"/>
<text x="381.4" y="297.85" class="t" textLength="42.4" lengthAdjust="spacingAndGlyphs">5-HIAA/5-HT</text>
<text x="338.7" y="308.2" class="ax">20</text>
<rect x="339.6" y="306.45" width="1.2" height="0.5" fill="#444"/>
<text x="338.7" y="333.2" class="ax">15</text>
<rect x="339.6" y="331.45" width="1.2" height="0.5" fill="#444"/>
<text x="338.7" y="358.2" class="ax">10</text>
<rect x="339.6" y="356.45" width="1.2" height="0.5" fill="#444"/>
<text x="338.7" y="382.9" class="ax">5</text>
<rect x="339.6" y="381.15" width="1.2" height="0.5" fill="#444"/>
<text x="338.7" y="407.7" class="ax">0</text>
<rect x="339.6" y="405.85" width="1.2" height="0.5" fill="#444"/>
<rect x="364.10" y="335.1" width="0.9" height="67.3" fill="#6e6e6e"/>
<rect x="349.3" y="369.2" width="30.5" height="26.1" fill="#1b7cc4" stroke="#222" stroke-width="0.6"/>
<rect x="349.3" y="384.05" width="30.5" height="0.9" fill="#2a2a2a"/>
<path d="M376.8 396.0h1.6v1.6h-1.6zM361.9 396.1h1.6v1.6h-1.6zM360.6 395.7h1.6v1.6h-1.6zM356.9 394.1h1.6v1.6h-1.6zM362.3 400.8h1.6v1.6h-1.6zM372.0 354.6h1.6v1.6h-1.6zM371.3 385.3h1.6v1.6h-1.6zM368.8 389.7h1.6v1.6h-1.6zM359.7 365.8h1.6v1.6h-1.6zM357.5 358.8h1.6v1.6h-1.6zM371.8 372.4h1.6v1.6h-1.6zM365.7 400.0h1.6v1.6h-1.6zM356.8 393.9h1.6v1.6h-1.6zM365.2 394.7h1.6v1.6h-1.6zM361.2 352.7h1.6v1.6h-1.6zM358.1 368.0h1.6v1.6h-1.6zM367.7 383.2h1.6v1.6h-1.6zM360.6 380.3h1.6v1.6h-1.6zM359.1 349.6h1.6v1.6h-1.6zM359.3 392.4h1.6v1.6h-1.6zM364.7 400.4h1.6v1.6h-1.6zM375.6 378.6h1.6v1.6h-1.6zM350.9 396.2h1.6v1.6h-1.6zM374.1 389.1h1.6v1.6h-1.6zM360.9 377.2h1.6v1.6h-1.6zM373.9 372.6h1.6v1.6h-1.6zM353.5 344.4h1.6v1.6h-1.6zM363.8 379.9h1.6v1.6h-1.6zM370.9 340.9h1.6v1.6h-1.6zM374.9 354.0h1.6v1.6h-1.6zM369.8 399.0h1.6v1.6h-1.6zM351.0 372.6h1.6v1.6h-1.6zM357.1 381.0h1.6v1.6h-1.6zM351.8 395.5h1.6v1.6h-1.6zM372.7 383.3h1.6v1.6h-1.6zM351.1 391.3h1.6v1.6h-1.6zM349.1 364.8h1.6v1.6h-1.6zM357.1 370.5h1.6v1.6h-1.6zM365.4 397.0h1.6v1.6h-1.6zM373.4 368.3h1.6v1.6h-1.6zM367.6 395.5h1.6v1.6h-1.6zM365.8 387.3h1.6v1.6h-1.6zM355.2 399.8h1.6v1.6h-1.6zM364.8 346.1h1.6v1.6h-1.6zM349.8 399.6h1.6v1.6h-1.6zM350.9 374.9h1.6v1.6h-1.6zM366.3 379.5h1.6v1.6h-1.6zM366.4 389.2h1.6v1.6h-1.6zM378.4 400.4h1.6v1.6h-1.6zM358.7 336.9h1.6v1.6h-1.6zM363.1 368.2h1.6v1.6h-1.6zM369.1 397.0h1.6v1.6h-1.6zM359.1 375.4h1.6v1.6h-1.6zM357.3 396.7h1.6v1.6h-1.6zM364.2 399.3h1.6v1.6h-1.6zM369.8 385.8h1.6v1.6h-1.6zM365.5 395.8h1.6v1.6h-1.6zM371.1 383.3h1.6v1.6h-1.6zM370.3 339.5h1.6v1.6h-1.6zM355.1 369.4h1.6v1.6h-1.6zM370.3 400.4h1.6v1.6h-1.6zM359.5 372.4h1.6v1.6h-1.6zM378.2 398.4h1.6v1.6h-1.6zM354.2 384.2h1.6v1.6h-1.6zM372.7 393.4h1.6v1.6h-1.6zM352.1 384.8h1.6v1.6h-1.6zM362.9 399.6h1.6v1.6h-1.6zM372.4 340.1h1.6v1.6h-1.6zM352.8 392.6h1.6v1.6h-1.6zM364.0 397.9h1.6v1.6h-1.6zM349.6 395.7h1.6v1.6h-1.6zM376.9 351.2h1.6v1.6h-1.6zM353.7 313.2h1.6v1.6h-1.6zM357.2 312.2h1.6v1.6h-1.6zM379.7 314.7h1.6v1.6h-1.6zM352.2 333.7h1.6v1.6h-1.6zM367.7 337.2h1.6v1.6h-1.6zM348.2 348.2h1.6v1.6h-1.6zM357.2 352.7h1.6v1.6h-1.6zM370.2 351.7h1.6v1.6h-1.6zM375.7 354.2h1.6v1.6h-1.6zM354.2 359.2h1.6v1.6h-1.6zM371.2 360.2h1.6v1.6h-1.6zM364.2 365.2h1.6v1.6h-1.6z" fill="#050505"/>
<circle cx="364.6" cy="378.7" r="1.3" fill="#f2ee1a"/>
<rect x="404.85" y="394.3" width="0.9" height="12.2" fill="#6e6e6e"/>
<rect x="389.9" y="399.7" width="30.8" height="4.7" fill="#b3211c" stroke="#222" stroke-width="0.6"/>
<rect x="389.9" y="401.75" width="30.8" height="0.9" fill="#2a2a2a"/>
<path d="M411.4 397.9h1.6v1.6h-1.6zM414.7 403.2h1.6v1.6h-1.6zM396.0 403.6h1.6v1.6h-1.6zM389.9 399.8h1.6v1.6h-1.6zM403.4 395.6h1.6v1.6h-1.6zM405.5 405.4h1.6v1.6h-1.6zM408.2 404.1h1.6v1.6h-1.6zM408.7 397.6h1.6v1.6h-1.6zM416.6 403.9h1.6v1.6h-1.6zM407.2 401.6h1.6v1.6h-1.6zM403.2 403.9h1.6v1.6h-1.6zM410.7 400.5h1.6v1.6h-1.6zM411.2 401.5h1.6v1.6h-1.6zM401.5 404.4h1.6v1.6h-1.6zM396.7 400.7h1.6v1.6h-1.6zM403.7 400.6h1.6v1.6h-1.6zM407.5 405.5h1.6v1.6h-1.6zM419.0 403.9h1.6v1.6h-1.6zM413.1 404.2h1.6v1.6h-1.6zM411.7 396.7h1.6v1.6h-1.6zM418.7 403.7h1.6v1.6h-1.6zM391.1 398.9h1.6v1.6h-1.6zM396.1 405.5h1.6v1.6h-1.6zM408.6 401.2h1.6v1.6h-1.6zM394.2 398.5h1.6v1.6h-1.6zM392.7 405.1h1.6v1.6h-1.6zM395.2 396.2h1.6v1.6h-1.6zM404.9 398.8h1.6v1.6h-1.6zM416.1 405.1h1.6v1.6h-1.6zM415.0 398.9h1.6v1.6h-1.6zM404.6 401.0h1.6v1.6h-1.6zM413.4 400.4h1.6v1.6h-1.6zM405.9 403.6h1.6v1.6h-1.6zM389.8 402.3h1.6v1.6h-1.6zM414.3 399.0h1.6v1.6h-1.6zM393.2 397.8h1.6v1.6h-1.6zM402.4 399.4h1.6v1.6h-1.6zM405.9 405.6h1.6v1.6h-1.6zM411.4 401.6h1.6v1.6h-1.6zM392.6 395.0h1.6v1.6h-1.6zM412.3 402.1h1.6v1.6h-1.6zM418.8 404.7h1.6v1.6h-1.6zM391.8 398.9h1.6v1.6h-1.6zM407.4 404.9h1.6v1.6h-1.6zM401.7 400.0h1.6v1.6h-1.6zM416.9 400.5h1.6v1.6h-1.6zM416.8 400.9h1.6v1.6h-1.6zM390.5 396.1h1.6v1.6h-1.6zM402.4 401.0h1.6v1.6h-1.6zM417.7 398.7h1.6v1.6h-1.6zM397.1 403.0h1.6v1.6h-1.6zM399.3 402.2h1.6v1.6h-1.6zM418.8 404.3h1.6v1.6h-1.6zM412.3 401.2h1.6v1.6h-1.6zM412.0 393.6h1.6v1.6h-1.6zM401.9 401.9h1.6v1.6h-1.6zM416.0 403.9h1.6v1.6h-1.6zM412.6 398.3h1.6v1.6h-1.6zM413.3 394.6h1.6v1.6h-1.6zM414.2 399.2h1.6v1.6h-1.6zM400.5 402.8h1.6v1.6h-1.6zM394.4 401.3h1.6v1.6h-1.6zM405.6 400.5h1.6v1.6h-1.6zM416.8 398.0h1.6v1.6h-1.6zM392.3 401.3h1.6v1.6h-1.6zM416.6 404.0h1.6v1.6h-1.6zM410.9 404.0h1.6v1.6h-1.6zM402.7 398.7h1.6v1.6h-1.6zM411.8 400.6h1.6v1.6h-1.6zM397.3 398.6h1.6v1.6h-1.6zM395.8 404.9h1.6v1.6h-1.6zM408.8 403.5h1.6v1.6h-1.6zM401.2 346.7h1.6v1.6h-1.6zM408.7 369.7h1.6v1.6h-1.6zM419.7 380.2h1.6v1.6h-1.6zM393.2 383.7h1.6v1.6h-1.6zM403.2 381.2h1.6v1.6h-1.6zM418.7 385.2h1.6v1.6h-1.6zM419.2 390.2h1.6v1.6h-1.6zM389.2 390.7h1.6v1.6h-1.6zM410.2 392.7h1.6v1.6h-1.6zM398.2 394.2h1.6v1.6h-1.6z" fill="#050505"/>
<circle cx="404.8" cy="400" r="1.3" fill="#f2ee1a"/>
<polygon fill="#b5231f" points="379.20,302.70 380.07,304.60 382.15,304.84 380.62,306.26 381.02,308.31 379.20,307.29 377.38,308.31 377.78,306.26 376.25,304.84 378.33,304.60"/>
<polygon fill="#b5231f" points="386.90,302.70 387.77,304.60 389.85,304.84 388.32,306.26 388.72,308.31 386.90,307.29 385.08,308.31 385.48,306.26 383.95,304.84 386.03,304.60"/>
<text x="364.6" y="417.8" class="cm">C</text>
<text x="405.8" y="417.8" class="cm">M</text>
<rect x="451.5" y="300.2" width="86.5" height="110.8" fill="#fff" stroke="#a3a3a3" stroke-width="0.8"/>
<text x="492" y="298.15" class="t" textLength="33.2" lengthAdjust="spacingAndGlyphs">NAS/5-HT</text>
<text x="449.4" y="316.4" class="ax">0.20</text>
<rect x="450.3" y="314.55" width="1.2" height="0.5" fill="#444"/>
<text x="449.4" y="339.4" class="ax">0.15</text>
<rect x="450.3" y="337.55" width="1.2" height="0.5" fill="#444"/>
<text x="449.4" y="362.1" class="ax">0.10</text>
<rect x="450.3" y="360.25" width="1.2" height="0.5" fill="#444"/>
<text x="449.4" y="384.9" class="ax">0.05</text>
<rect x="450.3" y="383.15" width="1.2" height="0.5" fill="#444"/>
<text x="449.4" y="407.7" class="ax">0.00</text>
<rect x="450.3" y="405.85" width="1.2" height="0.5" fill="#444"/>
<rect x="474.50" y="343.0" width="0.9" height="59.0" fill="#6e6e6e"/>
<rect x="459.7" y="373.9" width="30.5" height="21.2" fill="#1b7cc4" stroke="#222" stroke-width="0.6"/>
<rect x="459.7" y="385.45" width="30.5" height="0.9" fill="#2a2a2a"/>
<path d="M477.0 381.0h1.6v1.6h-1.6zM461.3 376.7h1.6v1.6h-1.6zM470.1 394.3h1.6v1.6h-1.6zM474.0 394.7h1.6v1.6h-1.6zM467.5 358.5h1.6v1.6h-1.6zM462.4 372.1h1.6v1.6h-1.6zM479.7 388.9h1.6v1.6h-1.6zM462.2 391.8h1.6v1.6h-1.6zM484.0 369.5h1.6v1.6h-1.6zM466.1 399.7h1.6v1.6h-1.6zM479.2 353.2h1.6v1.6h-1.6zM465.0 385.2h1.6v1.6h-1.6zM478.8 372.3h1.6v1.6h-1.6zM464.7 381.0h1.6v1.6h-1.6zM488.4 394.6h1.6v1.6h-1.6zM476.2 391.1h1.6v1.6h-1.6zM459.8 394.5h1.6v1.6h-1.6zM487.8 372.6h1.6v1.6h-1.6zM463.5 391.7h1.6v1.6h-1.6zM470.2 371.1h1.6v1.6h-1.6zM466.7 374.4h1.6v1.6h-1.6zM470.6 370.6h1.6v1.6h-1.6zM465.1 371.5h1.6v1.6h-1.6zM470.2 396.3h1.6v1.6h-1.6zM485.1 378.8h1.6v1.6h-1.6zM484.1 398.3h1.6v1.6h-1.6zM472.3 394.4h1.6v1.6h-1.6zM480.4 396.8h1.6v1.6h-1.6zM473.5 394.7h1.6v1.6h-1.6zM472.4 395.3h1.6v1.6h-1.6zM470.1 394.5h1.6v1.6h-1.6zM475.8 393.7h1.6v1.6h-1.6zM481.4 395.3h1.6v1.6h-1.6zM487.8 383.5h1.6v1.6h-1.6zM487.2 372.7h1.6v1.6h-1.6zM464.4 376.0h1.6v1.6h-1.6zM461.9 371.7h1.6v1.6h-1.6zM473.0 393.6h1.6v1.6h-1.6zM472.8 374.0h1.6v1.6h-1.6zM479.0 387.0h1.6v1.6h-1.6zM488.4 386.2h1.6v1.6h-1.6zM459.7 386.8h1.6v1.6h-1.6zM460.1 379.3h1.6v1.6h-1.6zM475.2 391.9h1.6v1.6h-1.6zM477.2 397.1h1.6v1.6h-1.6zM483.1 374.8h1.6v1.6h-1.6zM484.7 356.2h1.6v1.6h-1.6zM464.8 393.4h1.6v1.6h-1.6zM486.0 397.8h1.6v1.6h-1.6zM460.5 395.2h1.6v1.6h-1.6zM465.1 386.4h1.6v1.6h-1.6zM487.1 380.1h1.6v1.6h-1.6zM459.8 391.3h1.6v1.6h-1.6zM473.5 371.4h1.6v1.6h-1.6zM473.9 384.5h1.6v1.6h-1.6zM465.8 361.2h1.6v1.6h-1.6zM488.9 371.8h1.6v1.6h-1.6zM487.8 387.2h1.6v1.6h-1.6zM469.5 388.8h1.6v1.6h-1.6zM470.4 373.4h1.6v1.6h-1.6zM459.4 399.7h1.6v1.6h-1.6zM472.8 376.2h1.6v1.6h-1.6zM463.5 381.6h1.6v1.6h-1.6zM487.7 394.7h1.6v1.6h-1.6zM474.8 394.8h1.6v1.6h-1.6zM461.1 383.7h1.6v1.6h-1.6zM476.7 395.0h1.6v1.6h-1.6zM485.6 388.9h1.6v1.6h-1.6zM487.6 383.4h1.6v1.6h-1.6zM471.4 393.8h1.6v1.6h-1.6zM462.5 400.4h1.6v1.6h-1.6zM467.9 395.7h1.6v1.6h-1.6zM465.7 305.7h1.6v1.6h-1.6zM479.2 304.7h1.6v1.6h-1.6zM463.2 314.2h1.6v1.6h-1.6zM474.2 324.2h1.6v1.6h-1.6zM478.7 318.2h1.6v1.6h-1.6zM477.7 337.7h1.6v1.6h-1.6zM473.2 343.2h1.6v1.6h-1.6zM461.2 350.7h1.6v1.6h-1.6zM483.7 349.2h1.6v1.6h-1.6zM488.2 357.2h1.6v1.6h-1.6zM469.2 361.2h1.6v1.6h-1.6zM481.2 364.2h1.6v1.6h-1.6z" fill="#050505"/>
<circle cx="474.6" cy="379.4" r="1.3" fill="#f2ee1a"/>
<rect x="513.70" y="391.0" width="0.9" height="15.4" fill="#6e6e6e"/>
<rect x="499.3" y="398.4" width="29.7" height="6.2" fill="#b3211c" stroke="#222" stroke-width="0.6"/>
<rect x="499.3" y="401.55" width="29.7" height="0.9" fill="#2a2a2a"/>
<path d="M511.1 392.0h1.6v1.6h-1.6zM522.2 400.7h1.6v1.6h-1.6zM502.3 399.4h1.6v1.6h-1.6zM515.8 404.8h1.6v1.6h-1.6zM526.6 391.6h1.6v1.6h-1.6zM524.8 403.9h1.6v1.6h-1.6zM518.9 398.3h1.6v1.6h-1.6zM509.5 404.1h1.6v1.6h-1.6zM501.1 403.0h1.6v1.6h-1.6zM512.5 399.8h1.6v1.6h-1.6zM499.3 400.5h1.6v1.6h-1.6zM519.4 403.0h1.6v1.6h-1.6zM526.5 398.2h1.6v1.6h-1.6zM511.4 397.2h1.6v1.6h-1.6zM510.7 397.3h1.6v1.6h-1.6zM505.7 391.6h1.6v1.6h-1.6zM518.0 398.9h1.6v1.6h-1.6zM505.4 397.5h1.6v1.6h-1.6zM500.0 404.1h1.6v1.6h-1.6zM511.1 404.4h1.6v1.6h-1.6zM526.0 404.7h1.6v1.6h-1.6zM519.2 398.9h1.6v1.6h-1.6zM512.8 401.7h1.6v1.6h-1.6zM503.6 404.9h1.6v1.6h-1.6zM521.0 403.7h1.6v1.6h-1.6zM517.2 394.5h1.6v1.6h-1.6zM504.6 401.1h1.6v1.6h-1.6zM506.3 396.9h1.6v1.6h-1.6zM523.4 394.9h1.6v1.6h-1.6zM504.7 395.0h1.6v1.6h-1.6zM519.8 404.6h1.6v1.6h-1.6zM499.1 403.9h1.6v1.6h-1.6zM499.1 404.9h1.6v1.6h-1.6zM519.4 404.1h1.6v1.6h-1.6zM502.3 397.6h1.6v1.6h-1.6zM503.3 390.6h1.6v1.6h-1.6zM508.2 402.6h1.6v1.6h-1.6zM506.4 402.4h1.6v1.6h-1.6zM503.7 403.9h1.6v1.6h-1.6zM519.0 404.8h1.6v1.6h-1.6zM519.9 405.1h1.6v1.6h-1.6zM504.4 402.5h1.6v1.6h-1.6zM500.5 395.3h1.6v1.6h-1.6zM510.1 404.9h1.6v1.6h-1.6zM521.9 398.4h1.6v1.6h-1.6zM515.8 397.5h1.6v1.6h-1.6zM522.1 404.9h1.6v1.6h-1.6zM501.7 397.2h1.6v1.6h-1.6zM503.0 399.6h1.6v1.6h-1.6zM502.1 404.7h1.6v1.6h-1.6zM506.4 398.5h1.6v1.6h-1.6zM519.8 402.6h1.6v1.6h-1.6zM505.3 405.0h1.6v1.6h-1.6zM518.8 404.8h1.6v1.6h-1.6zM504.9 400.8h1.6v1.6h-1.6zM506.5 402.9h1.6v1.6h-1.6zM521.1 404.1h1.6v1.6h-1.6zM526.5 393.8h1.6v1.6h-1.6zM508.1 396.9h1.6v1.6h-1.6zM516.5 397.8h1.6v1.6h-1.6zM513.7 403.8h1.6v1.6h-1.6zM524.2 405.4h1.6v1.6h-1.6zM502.4 401.7h1.6v1.6h-1.6zM509.4 402.6h1.6v1.6h-1.6zM521.3 399.5h1.6v1.6h-1.6zM510.1 403.9h1.6v1.6h-1.6zM518.2 401.9h1.6v1.6h-1.6zM512.7 404.2h1.6v1.6h-1.6zM509.7 400.4h1.6v1.6h-1.6zM525.8 403.6h1.6v1.6h-1.6zM512.1 398.0h1.6v1.6h-1.6zM500.1 398.6h1.6v1.6h-1.6zM503.7 344.2h1.6v1.6h-1.6zM525.2 370.2h1.6v1.6h-1.6zM512.2 378.2h1.6v1.6h-1.6zM502.2 379.2h1.6v1.6h-1.6zM527.2 383.2h1.6v1.6h-1.6zM511.2 383.7h1.6v1.6h-1.6zM523.7 387.7h1.6v1.6h-1.6zM506.2 389.2h1.6v1.6h-1.6zM518.2 392.2h1.6v1.6h-1.6zM500.2 393.2h1.6v1.6h-1.6z" fill="#050505"/>
<circle cx="513.6" cy="400" r="1.3" fill="#f2ee1a"/>
<polygon fill="#b5231f" points="486.70,302.70 487.57,304.60 489.65,304.84 488.12,306.26 488.52,308.31 486.70,307.29 484.88,308.31 485.28,306.26 483.75,304.84 485.83,304.60"/>
<polygon fill="#b5231f" points="494.60,302.70 495.47,304.60 497.55,304.84 496.02,306.26 496.42,308.31 494.60,307.29 492.78,308.31 493.18,306.26 491.65,304.84 493.73,304.60"/>
<text x="475" y="417.9" class="cm">C</text>
<text x="513.6" y="417.9" class="cm">M</text>
</svg></body></html>
